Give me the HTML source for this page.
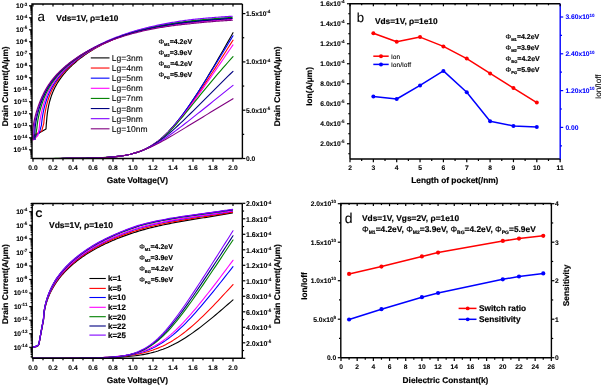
<!DOCTYPE html><html><head><meta charset="utf-8"><style>html,body{margin:0;padding:0;background:#fff;}svg{display:block;will-change:transform;}text{font-family:"Liberation Sans",sans-serif;text-rendering:geometricPrecision;}</style></head><body>
<svg width="601" height="385" viewBox="0 0 601 385">
<rect width="601" height="385" fill="#fff"/>
<clipPath id="ca"><rect x="32" y="3" width="210.4" height="155.5"/></clipPath>
<g clip-path="url(#ca)">
<polyline points="33.00,158.49 35.50,158.49 38.00,158.48 40.50,158.48 43.00,158.48 45.50,158.47 48.00,158.47 50.50,158.47 53.00,158.46 55.50,158.45 58.00,158.45 60.50,158.44 63.00,158.43 65.50,158.41 68.00,158.40 70.50,158.38 73.00,158.36 75.50,158.34 78.00,158.31 80.50,158.28 83.00,158.25 85.50,158.21 88.00,158.16 90.50,158.10 93.00,158.03 95.50,157.96 98.00,157.87 100.50,157.77 103.00,157.65 105.50,157.51 108.00,157.35 110.50,157.16 113.00,156.95 115.50,156.70 118.00,156.42 120.50,156.09 123.00,155.72 125.50,155.28 128.00,154.79 130.50,154.23 133.00,153.59 135.50,152.87 138.00,152.05 140.50,151.13 143.00,150.10 145.50,148.94 148.00,147.66 150.50,146.25 153.00,144.69 155.50,142.98 158.00,141.12 160.50,139.11 163.00,136.93 165.50,134.61 168.00,132.12 170.50,129.49 173.00,126.71 175.50,123.78 178.00,120.72 180.50,117.54 183.00,114.23 185.50,110.80 188.00,107.27 190.50,103.64 193.00,99.92 195.50,96.12 198.00,92.24 200.50,88.29 203.00,84.27 205.50,80.20 208.00,76.07 210.50,71.90 213.00,67.67 215.50,63.41 218.00,59.11 220.50,54.78 223.00,50.42 225.50,46.03 228.00,41.61 230.50,37.16 233.00,32.70" fill="none" stroke="#000000" stroke-width="1.1" stroke-linejoin="round" stroke-linecap="round"/>
<polyline points="33.00,158.49 35.50,158.48 38.00,158.48 40.50,158.48 43.00,158.48 45.50,158.47 48.00,158.47 50.50,158.46 53.00,158.46 55.50,158.45 58.00,158.44 60.50,158.43 63.00,158.42 65.50,158.41 68.00,158.39 70.50,158.37 73.00,158.35 75.50,158.33 78.00,158.30 80.50,158.27 83.00,158.23 85.50,158.19 88.00,158.14 90.50,158.08 93.00,158.01 95.50,157.94 98.00,157.85 100.50,157.74 103.00,157.62 105.50,157.48 108.00,157.32 110.50,157.14 113.00,156.92 115.50,156.67 118.00,156.39 120.50,156.06 123.00,155.69 125.50,155.26 128.00,154.77 130.50,154.21 133.00,153.58 135.50,152.86 138.00,152.05 140.50,151.14 143.00,150.11 145.50,148.97 148.00,147.70 150.50,146.29 153.00,144.74 155.50,143.05 158.00,141.20 160.50,139.21 163.00,137.06 165.50,134.76 168.00,132.31 170.50,129.72 173.00,127.00 175.50,124.15 178.00,121.17 180.50,118.08 183.00,114.89 185.50,111.60 188.00,108.23 190.50,104.78 193.00,101.26 195.50,97.68 198.00,94.05 200.50,90.37 203.00,86.65 205.50,82.89 208.00,79.10 210.50,75.28 213.00,71.44 215.50,67.58 218.00,63.70 220.50,59.81 223.00,55.90 225.50,51.99 228.00,48.06 230.50,44.13 233.00,40.19" fill="none" stroke="#ff0000" stroke-width="1.1" stroke-linejoin="round" stroke-linecap="round"/>
<polyline points="33.00,158.49 35.50,158.48 38.00,158.48 40.50,158.48 43.00,158.47 45.50,158.47 48.00,158.46 50.50,158.46 53.00,158.45 55.50,158.44 58.00,158.44 60.50,158.43 63.00,158.41 65.50,158.40 68.00,158.38 70.50,158.37 73.00,158.34 75.50,158.32 78.00,158.29 80.50,158.26 83.00,158.22 85.50,158.18 88.00,158.12 90.50,158.07 93.00,158.00 95.50,157.92 98.00,157.83 100.50,157.72 103.00,157.60 105.50,157.46 108.00,157.30 110.50,157.11 113.00,156.90 115.50,156.65 118.00,156.37 120.50,156.05 123.00,155.67 125.50,155.25 128.00,154.76 130.50,154.21 133.00,153.58 135.50,152.86 138.00,152.06 140.50,151.15 143.00,150.12 145.50,148.98 148.00,147.71 150.50,146.30 153.00,144.74 155.50,143.03 158.00,141.17 160.50,139.14 163.00,136.95 165.50,134.60 168.00,132.09 170.50,129.43 173.00,126.62 175.50,123.67 178.00,120.58 180.50,117.37 183.00,114.05 185.50,110.62 188.00,107.09 190.50,103.48 193.00,99.80 195.50,96.05 198.00,92.23 200.50,88.37 203.00,84.47 205.50,80.52 208.00,76.54 210.50,72.54 213.00,68.51 215.50,64.46 218.00,60.40 220.50,56.32 223.00,52.23 225.50,48.13 228.00,44.02 230.50,39.91 233.00,35.80" fill="none" stroke="#0000ff" stroke-width="1.1" stroke-linejoin="round" stroke-linecap="round"/>
<polyline points="33.00,158.48 35.50,158.48 38.00,158.48 40.50,158.48 43.00,158.47 45.50,158.47 48.00,158.46 50.50,158.46 53.00,158.45 55.50,158.44 58.00,158.43 60.50,158.42 63.00,158.41 65.50,158.39 68.00,158.38 70.50,158.36 73.00,158.34 75.50,158.31 78.00,158.28 80.50,158.25 83.00,158.21 85.50,158.16 88.00,158.11 90.50,158.05 93.00,157.98 95.50,157.90 98.00,157.81 100.50,157.70 103.00,157.58 105.50,157.44 108.00,157.27 110.50,157.09 113.00,156.87 115.50,156.63 118.00,156.34 120.50,156.02 123.00,155.65 125.50,155.22 128.00,154.74 130.50,154.19 133.00,153.56 135.50,152.85 138.00,152.06 140.50,151.16 143.00,150.15 145.50,149.03 148.00,147.78 150.50,146.40 153.00,144.87 155.50,143.21 158.00,141.39 160.50,139.43 163.00,137.32 165.50,135.06 168.00,132.65 170.50,130.11 173.00,127.43 175.50,124.63 178.00,121.72 180.50,118.70 183.00,115.58 185.50,112.38 188.00,109.11 190.50,105.77 193.00,102.38 195.50,98.93 198.00,95.44 200.50,91.92 203.00,88.37 205.50,84.80 208.00,81.20 210.50,77.60 213.00,73.98 215.50,70.35 218.00,66.72 220.50,63.08 223.00,59.44 225.50,55.80 228.00,52.17 230.50,48.53 233.00,44.90" fill="none" stroke="#ff00ff" stroke-width="1.1" stroke-linejoin="round" stroke-linecap="round"/>
<polyline points="33.00,158.48 35.50,158.47 38.00,158.47 40.50,158.47 43.00,158.46 45.50,158.46 48.00,158.45 50.50,158.44 53.00,158.43 55.50,158.42 58.00,158.41 60.50,158.40 63.00,158.39 65.50,158.37 68.00,158.35 70.50,158.33 73.00,158.30 75.50,158.28 78.00,158.24 80.50,158.21 83.00,158.16 85.50,158.12 88.00,158.06 90.50,158.00 93.00,157.92 95.50,157.84 98.00,157.74 100.50,157.63 103.00,157.51 105.50,157.37 108.00,157.20 110.50,157.01 113.00,156.80 115.50,156.56 118.00,156.28 120.50,155.96 123.00,155.60 125.50,155.19 128.00,154.72 130.50,154.18 133.00,153.58 135.50,152.89 138.00,152.12 140.50,151.25 143.00,150.27 145.50,149.18 148.00,147.95 150.50,146.60 153.00,145.10 155.50,143.45 158.00,141.65 160.50,139.70 163.00,137.59 165.50,135.34 168.00,132.95 170.50,130.42 173.00,127.77 175.50,125.02 178.00,122.18 180.50,119.26 183.00,116.28 185.50,113.25 188.00,110.19 190.50,107.10 193.00,104.00 195.50,100.90 198.00,97.80 200.50,94.71 203.00,91.64 205.50,88.59 208.00,85.56 210.50,82.55 213.00,79.57 215.50,76.61 218.00,73.69 220.50,70.79 223.00,67.92 225.50,65.07 228.00,62.25 230.50,59.46 233.00,56.70" fill="none" stroke="#008000" stroke-width="1.1" stroke-linejoin="round" stroke-linecap="round"/>
<polyline points="33.00,158.49 35.50,158.48 38.00,158.48 40.50,158.48 43.00,158.48 45.50,158.47 48.00,158.47 50.50,158.46 53.00,158.46 55.50,158.45 58.00,158.44 60.50,158.43 63.00,158.42 65.50,158.41 68.00,158.39 70.50,158.37 73.00,158.35 75.50,158.33 78.00,158.30 80.50,158.27 83.00,158.23 85.50,158.19 88.00,158.14 90.50,158.08 93.00,158.02 95.50,157.94 98.00,157.85 100.50,157.74 103.00,157.62 105.50,157.48 108.00,157.32 110.50,157.13 113.00,156.92 115.50,156.67 118.00,156.38 120.50,156.06 123.00,155.68 125.50,155.25 128.00,154.76 130.50,154.20 133.00,153.57 135.50,152.86 138.00,152.06 140.50,151.16 143.00,150.17 145.50,149.07 148.00,147.86 150.50,146.55 153.00,145.11 155.50,143.57 158.00,141.92 160.50,140.17 163.00,138.31 165.50,136.36 168.00,134.33 170.50,132.22 173.00,130.04 175.50,127.79 178.00,125.50 180.50,123.16 183.00,120.78 185.50,118.38 188.00,115.94 190.50,113.49 193.00,111.02 195.50,108.53 198.00,106.04 200.50,103.55 203.00,101.05 205.50,98.55 208.00,96.05 210.50,93.55 213.00,91.05 215.50,88.56 218.00,86.08 220.50,83.60 223.00,81.12 225.50,78.66 228.00,76.20 230.50,73.74 233.00,71.29" fill="none" stroke="#000080" stroke-width="1.1" stroke-linejoin="round" stroke-linecap="round"/>
<polyline points="33.00,158.49 35.50,158.49 38.00,158.49 40.50,158.49 43.00,158.48 45.50,158.48 48.00,158.48 50.50,158.47 53.00,158.47 55.50,158.46 58.00,158.45 60.50,158.45 63.00,158.44 65.50,158.43 68.00,158.41 70.50,158.40 73.00,158.38 75.50,158.36 78.00,158.33 80.50,158.30 83.00,158.27 85.50,158.23 88.00,158.18 90.50,158.13 93.00,158.06 95.50,157.99 98.00,157.90 100.50,157.80 103.00,157.68 105.50,157.54 108.00,157.37 110.50,157.18 113.00,156.97 115.50,156.71 118.00,156.42 120.50,156.08 123.00,155.70 125.50,155.26 128.00,154.76 130.50,154.20 133.00,153.56 135.50,152.85 138.00,152.06 140.50,151.19 143.00,150.23 145.50,149.18 148.00,148.05 150.50,146.83 153.00,145.53 155.50,144.15 158.00,142.69 160.50,141.17 163.00,139.58 165.50,137.93 168.00,136.23 170.50,134.48 173.00,132.69 175.50,130.86 178.00,129.00 180.50,127.12 183.00,125.21 185.50,123.28 188.00,121.34 190.50,119.38 193.00,117.41 195.50,115.43 198.00,113.44 200.50,111.45 203.00,109.46 205.50,107.46 208.00,105.45 210.50,103.45 213.00,101.44 215.50,99.44 218.00,97.43 220.50,95.42 223.00,93.42 225.50,91.41 228.00,89.41 230.50,87.40 233.00,85.40" fill="none" stroke="#8000ff" stroke-width="1.1" stroke-linejoin="round" stroke-linecap="round"/>
<polyline points="33.00,158.49 35.50,158.49 38.00,158.49 40.50,158.49 43.00,158.49 45.50,158.48 48.00,158.48 50.50,158.48 53.00,158.47 55.50,158.47 58.00,158.46 60.50,158.45 63.00,158.45 65.50,158.44 68.00,158.42 70.50,158.41 73.00,158.39 75.50,158.37 78.00,158.35 80.50,158.32 83.00,158.29 85.50,158.25 88.00,158.21 90.50,158.15 93.00,158.09 95.50,158.02 98.00,157.93 100.50,157.83 103.00,157.71 105.50,157.57 108.00,157.41 110.50,157.21 113.00,156.99 115.50,156.74 118.00,156.44 120.50,156.10 123.00,155.71 125.50,155.26 128.00,154.76 130.50,154.19 133.00,153.56 135.50,152.86 138.00,152.09 140.50,151.24 143.00,150.33 145.50,149.34 148.00,148.29 150.50,147.17 153.00,146.00 155.50,144.77 158.00,143.50 160.50,142.18 163.00,140.82 165.50,139.43 168.00,138.01 170.50,136.57 173.00,135.11 175.50,133.63 178.00,132.14 180.50,130.63 183.00,129.12 185.50,127.61 188.00,126.08 190.50,124.56 193.00,123.03 195.50,121.50 198.00,119.97 200.50,118.44 203.00,116.91 205.50,115.39 208.00,113.86 210.50,112.33 213.00,110.81 215.50,109.29 218.00,107.77 220.50,106.25 223.00,104.74 225.50,103.22 228.00,101.71 230.50,100.21 233.00,98.70" fill="none" stroke="#800080" stroke-width="1.1" stroke-linejoin="round" stroke-linecap="round"/>
<polyline points="33.00,136.50 46.00,129.00 46.07,127.72 46.15,126.45 46.24,125.19 46.34,123.92 46.45,122.67 46.57,121.41 46.67,120.16 46.77,118.91 46.88,117.66 47.00,116.41 47.14,115.16 47.29,113.91 47.45,112.66 47.63,111.41 47.83,110.15 48.04,108.90 48.27,107.65 48.51,106.41 48.77,105.17 49.05,103.93 49.35,102.69 49.67,101.46 50.00,100.23 50.36,99.01 50.73,97.80 51.12,96.60 51.54,95.40 51.98,94.21 52.43,93.03 52.91,91.86 53.41,90.70 53.93,89.55 54.48,88.42 55.04,87.30 55.62,86.20 56.22,85.11 56.84,84.03 57.48,82.97 58.13,81.92 58.80,80.89 59.49,79.86 60.19,78.85 60.91,77.86 61.64,76.87 62.39,75.90 63.15,74.94 63.92,73.99 64.70,73.06 65.50,72.14 66.31,71.23 67.13,70.33 67.96,69.44 68.80,68.56 69.65,67.70 70.51,66.85 71.38,66.00 72.26,65.17 73.14,64.35 74.04,63.54 74.94,62.75 75.85,61.96 76.77,61.18 77.70,60.41 78.63,59.66 79.57,58.91 80.51,58.17 81.46,57.44 82.42,56.72 83.38,56.02 84.35,55.32 85.32,54.63 86.30,53.94 87.29,53.27 88.29,52.61 89.28,51.95 90.29,51.31 91.30,50.67 92.32,50.04 93.34,49.42 94.37,48.81 95.40,48.21 96.45,47.61 97.49,47.03 98.54,46.45 99.60,45.88 100.66,45.32 101.73,44.77 102.81,44.22 103.89,43.69 104.97,43.16 106.06,42.63 107.16,42.12 108.26,41.61 109.36,41.12 110.48,40.62 111.59,40.14 112.72,39.67 113.84,39.20 114.98,38.74 116.11,38.28 117.26,37.83 118.41,37.39 119.56,36.96 120.72,36.53 121.88,36.11 123.05,35.70 124.22,35.30 125.40,34.90 126.58,34.50 127.77,34.12 128.96,33.74 130.16,33.37 131.36,33.00 132.57,32.64 133.79,32.28 135.00,31.94 136.22,31.59 137.45,31.26 138.68,30.93 139.92,30.60 141.16,30.28 142.41,29.97 143.66,29.66 144.91,29.36 146.17,29.07 147.44,28.78 148.71,28.49 149.98,28.21 151.26,27.94 152.54,27.67 153.83,27.40 155.12,27.14 156.42,26.89 157.72,26.64 159.02,26.39 160.33,26.15 161.64,25.92 162.96,25.69 164.28,25.46 165.61,25.24 166.94,25.02 168.27,24.81 169.61,24.60 170.95,24.40 172.29,24.20 173.64,24.00 174.99,23.81 176.35,23.62 177.70,23.44 179.06,23.26 180.43,23.08 181.79,22.91 183.16,22.74 184.52,22.58 185.89,22.41 187.26,22.25 188.63,22.10 190.00,21.95 191.37,21.80 192.73,21.65 194.10,21.51 195.46,21.37 196.82,21.24 198.18,21.10 199.53,20.97 200.88,20.84 202.23,20.72 203.56,20.60 204.89,20.48 206.21,20.36 207.52,20.24 208.83,20.13 210.12,20.02 211.40,19.91 212.67,19.81 213.93,19.70 215.17,19.60 216.40,19.50 217.62,19.40 218.82,19.31 220.01,19.21 221.18,19.12 222.33,19.03 223.47,18.94 224.59,18.85 225.69,18.76 226.78,18.68 227.84,18.59 228.90,18.51 229.93,18.43 230.95,18.35 231.46,18.31" fill="none" stroke="#000000" stroke-width="1.15" stroke-linejoin="round" stroke-linecap="round"/>
<polyline points="33.00,135.50 41.81,130.92 42.11,129.64 42.42,128.36 42.75,127.09 43.10,125.82 43.45,124.55 43.80,123.30 43.90,122.04 44.01,120.79 44.14,119.53 44.28,118.28 44.44,117.03 44.60,115.78 44.79,114.53 44.98,113.28 45.20,112.03 45.42,110.78 45.67,109.53 45.92,108.28 46.20,107.03 46.49,105.79 46.80,104.55 47.12,103.31 47.46,102.07 47.82,100.85 48.20,99.62 48.59,98.41 49.01,97.20 49.44,96.00 49.90,94.80 50.37,93.62 50.86,92.44 51.38,91.28 51.91,90.12 52.47,88.99 53.04,87.86 53.64,86.75 54.25,85.65 54.88,84.57 55.53,83.50 56.20,82.44 56.88,81.40 57.58,80.37 58.30,79.36 59.03,78.35 59.78,77.36 60.54,76.38 61.32,75.42 62.10,74.47 62.91,73.52 63.72,72.60 64.55,71.68 65.38,70.77 66.23,69.88 67.09,69.00 67.96,68.13 68.84,67.27 69.73,66.42 70.63,65.59 71.54,64.76 72.46,63.95 73.38,63.14 74.32,62.35 75.26,61.57 76.21,60.80 77.16,60.03 78.12,59.28 79.09,58.54 80.07,57.81 81.05,57.08 82.03,56.37 83.03,55.66 84.03,54.97 85.03,54.29 86.04,53.62 87.06,52.96 88.08,52.30 89.11,51.66 90.14,51.02 91.18,50.40 92.22,49.78 93.27,49.17 94.33,48.57 95.39,47.97 96.45,47.39 97.53,46.81 98.60,46.24 99.69,45.68 100.77,45.13 101.86,44.59 102.96,44.05 104.07,43.52 105.17,43.00 106.29,42.49 107.40,41.99 108.53,41.49 109.65,41.00 110.79,40.52 111.92,40.04 113.07,39.58 114.21,39.12 115.37,38.66 116.52,38.22 117.68,37.78 118.85,37.35 120.02,36.93 121.19,36.51 122.37,36.10 123.56,35.70 124.75,35.30 125.94,34.91 127.14,34.52 128.34,34.15 129.55,33.78 130.76,33.41 131.97,33.05 133.19,32.70 134.42,32.36 135.64,32.02 136.88,31.68 138.11,31.36 139.35,31.04 140.60,30.72 141.85,30.41 143.10,30.11 144.36,29.81 145.62,29.51 146.88,29.23 148.15,28.94 149.42,28.67 150.70,28.40 151.98,28.13 153.27,27.87 154.56,27.61 155.85,27.36 157.14,27.11 158.44,26.87 159.75,26.64 161.05,26.40 162.36,26.18 163.68,25.96 165.00,25.74 166.32,25.52 167.64,25.32 168.97,25.11 170.30,24.91 171.63,24.71 172.97,24.52 174.31,24.33 175.65,24.15 176.99,23.97 178.34,23.79 179.69,23.62 181.04,23.45 182.39,23.29 183.74,23.13 185.09,22.97 186.45,22.82 187.80,22.66 189.16,22.52 190.51,22.37 191.87,22.23 193.22,22.08 194.57,21.94 195.92,21.80 197.26,21.67 198.61,21.54 199.95,21.41 201.28,21.28 202.61,21.16 203.94,21.04 205.26,20.92 206.57,20.80 207.87,20.69 209.17,20.58 210.46,20.47 211.74,20.36 213.01,20.25 214.26,20.15 215.51,20.05 216.75,19.95 217.97,19.85 219.18,19.76 220.38,19.66 221.57,19.57 222.74,19.48 223.90,19.39 225.05,19.31 226.18,19.22 227.30,19.13 228.40,19.05 229.49,18.97 230.57,18.89 231.64,18.81 231.64,18.81" fill="none" stroke="#ff0000" stroke-width="1.15" stroke-linejoin="round" stroke-linecap="round"/>
<polyline points="33.00,137.60 39.40,132.86 39.72,131.56 40.04,130.28 40.38,129.00 40.73,127.72 41.10,126.45 41.46,125.19 41.56,123.92 41.68,122.67 41.82,121.41 41.97,120.16 42.13,118.91 42.31,117.66 42.51,116.41 42.72,115.16 42.94,113.91 43.18,112.66 43.43,111.41 43.69,110.15 43.98,108.90 44.27,107.65 44.58,106.41 44.91,105.17 45.26,103.93 45.62,102.69 46.00,101.46 46.39,100.23 46.81,99.01 47.24,97.80 47.69,96.60 48.15,95.40 48.64,94.21 49.14,93.03 49.67,91.86 50.21,90.70 50.77,89.55 51.36,88.42 51.96,87.30 52.58,86.20 53.22,85.11 53.88,84.03 54.56,82.97 55.25,81.92 55.96,80.89 56.69,79.86 57.43,78.85 58.19,77.86 58.96,76.87 59.75,75.90 60.55,74.94 61.36,73.99 62.19,73.06 63.02,72.14 63.88,71.23 64.74,70.33 65.61,69.44 66.50,68.56 67.39,67.70 68.30,66.85 69.21,66.00 70.14,65.17 71.07,64.35 72.01,63.54 72.96,62.75 73.92,61.96 74.89,61.18 75.86,60.41 76.84,59.66 77.83,58.91 78.82,58.17 79.82,57.44 80.83,56.72 81.84,56.02 82.86,55.31 83.88,54.62 84.91,53.93 85.95,53.25 86.99,52.59 88.03,51.93 89.08,51.28 90.14,50.63 91.20,50.00 92.27,49.38 93.34,48.76 94.41,48.15 95.50,47.55 96.58,46.96 97.68,46.38 98.77,45.80 99.88,45.24 100.98,44.68 102.10,44.13 103.21,43.58 104.33,43.05 105.46,42.52 106.59,42.00 107.73,41.49 108.87,40.99 110.01,40.49 111.16,40.00 112.32,39.52 113.48,39.05 114.64,38.58 115.81,38.12 116.98,37.67 118.15,37.22 119.33,36.78 120.52,36.35 121.71,35.93 122.90,35.51 124.10,35.10 125.30,34.69 126.50,34.29 127.71,33.90 128.93,33.52 130.14,33.14 131.36,32.77 132.59,32.40 133.82,32.04 135.05,31.69 136.29,31.34 137.53,31.00 138.77,30.66 140.02,30.33 141.27,30.01 142.52,29.69 143.78,29.37 145.05,29.07 146.31,28.76 147.58,28.47 148.85,28.18 150.13,27.89 151.41,27.61 152.69,27.33 153.98,27.06 155.27,26.80 156.56,26.54 157.86,26.28 159.15,26.03 160.46,25.79 161.76,25.55 163.07,25.31 164.38,25.08 165.70,24.85 167.01,24.63 168.33,24.41 169.65,24.19 170.98,23.98 172.30,23.78 173.63,23.58 174.96,23.38 176.30,23.19 177.63,23.00 178.97,22.81 180.31,22.63 181.65,22.45 182.99,22.27 184.33,22.10 185.67,21.93 187.02,21.77 188.36,21.61 189.70,21.45 191.04,21.30 192.39,21.15 193.73,21.01 195.07,20.87 196.40,20.74 197.74,20.60 199.07,20.47 200.40,20.34 201.72,20.22 203.05,20.10 204.36,19.98 205.67,19.86 206.98,19.74 208.28,19.63 209.57,19.52 210.85,19.41 212.13,19.31 213.40,19.20 214.66,19.10 215.91,19.00 217.15,18.90 218.39,18.81 219.61,18.71 220.82,18.62 222.02,18.53 223.21,18.44 224.39,18.35 225.56,18.26 226.71,18.18 227.86,18.09 228.99,18.01 230.12,17.93 231.23,17.85 231.78,17.81" fill="none" stroke="#0000ff" stroke-width="1.15" stroke-linejoin="round" stroke-linecap="round"/>
<polyline points="33.00,140.00 37.89,135.47 38.09,134.16 38.31,132.86 38.55,131.56 38.80,130.28 39.06,129.00 39.30,127.72 39.39,126.45 39.50,125.19 39.63,123.92 39.77,122.67 39.93,121.41 40.11,120.16 40.30,118.91 40.51,117.66 40.74,116.41 40.97,115.16 41.22,113.91 41.49,112.66 41.77,111.41 42.06,110.15 42.37,108.90 42.70,107.65 43.03,106.41 43.39,105.17 43.76,103.93 44.15,102.69 44.55,101.46 44.97,100.23 45.40,99.01 45.86,97.80 46.33,96.60 46.82,95.40 47.32,94.21 47.84,93.03 48.38,91.86 48.94,90.70 49.52,89.55 50.12,88.42 50.74,87.30 51.38,86.20 52.04,85.11 52.71,84.03 53.40,82.97 54.11,81.92 54.84,80.89 55.58,79.86 56.34,78.85 57.11,77.86 57.90,76.87 58.70,75.90 59.52,74.94 60.35,73.99 61.19,73.06 62.05,72.14 62.92,71.23 63.80,70.33 64.69,69.44 65.59,68.56 66.50,67.70 67.42,66.85 68.36,66.00 69.30,65.17 70.25,64.35 71.21,63.54 72.18,62.75 73.16,61.96 74.15,61.18 75.14,60.41 76.14,59.66 77.15,58.91 78.16,58.17 79.18,57.44 80.20,56.72 81.23,56.02 82.27,55.32 83.31,54.64 84.36,53.97 85.41,53.30 86.47,52.65 87.54,52.00 88.60,51.37 89.68,50.74 90.76,50.12 91.84,49.51 92.93,48.91 94.02,48.31 95.12,47.73 96.23,47.15 97.33,46.58 98.45,46.02 99.56,45.47 100.69,44.93 101.81,44.39 102.95,43.87 104.08,43.35 105.22,42.83 106.37,42.33 107.52,41.83 108.67,41.35 109.83,40.86 110.99,40.39 112.16,39.92 113.33,39.47 114.50,39.01 115.68,38.57 116.87,38.13 118.05,37.70 119.24,37.28 120.44,36.86 121.64,36.45 122.84,36.05 124.05,35.66 125.26,35.27 126.47,34.88 127.69,34.51 128.91,34.14 130.13,33.78 131.36,33.42 132.59,33.07 133.83,32.73 135.07,32.39 136.31,32.06 137.56,31.73 138.81,31.41 140.06,31.10 141.31,30.79 142.57,30.48 143.83,30.19 145.10,29.90 146.37,29.61 147.64,29.33 148.91,29.06 150.19,28.79 151.47,28.52 152.75,28.26 154.04,28.01 155.33,27.76 156.62,27.52 157.91,27.28 159.21,27.04 160.51,26.81 161.81,26.59 163.11,26.37 164.42,26.15 165.73,25.94 167.04,25.74 168.35,25.53 169.67,25.34 170.99,25.14 172.31,24.95 173.63,24.77 174.95,24.59 176.28,24.41 177.60,24.24 178.93,24.07 180.26,23.90 181.59,23.74 182.92,23.58 184.25,23.43 185.59,23.28 186.92,23.13 188.25,22.98 189.58,22.84 190.92,22.70 192.25,22.55 193.58,22.41 194.91,22.27 196.24,22.14 197.56,22.00 198.89,21.87 200.21,21.74 201.53,21.62 202.84,21.50 204.15,21.38 205.46,21.26 206.76,21.14 208.06,21.03 209.35,20.92 210.64,20.81 211.92,20.71 213.19,20.60 214.46,20.50 215.72,20.40 216.97,20.30 218.21,20.21 219.45,20.11 220.68,20.02 221.90,19.93 223.11,19.84 224.31,19.75 225.51,19.66 226.69,19.58 227.87,19.49 229.03,19.41 230.19,19.33 231.34,19.25 231.91,19.21" fill="none" stroke="#ff00ff" stroke-width="1.15" stroke-linejoin="round" stroke-linecap="round"/>
<polyline points="33.00,138.50 35.84,136.13 35.96,134.82 36.10,133.51 36.27,132.21 36.45,130.92 36.65,129.64 36.86,128.36 36.96,127.09 37.09,125.82 37.23,124.55 37.40,123.30 37.58,122.04 37.78,120.79 37.99,119.53 38.23,118.28 38.48,117.03 38.74,115.78 39.02,114.53 39.31,113.28 39.62,112.03 39.94,110.78 40.27,109.53 40.62,108.28 40.99,107.03 41.37,105.79 41.76,104.55 42.17,103.31 42.59,102.07 43.03,100.85 43.49,99.62 43.96,98.41 44.45,97.20 44.95,96.00 45.47,94.80 46.01,93.62 46.56,92.44 47.13,91.28 47.72,90.12 48.33,88.99 48.96,87.86 49.61,86.75 50.28,85.65 50.96,84.57 51.66,83.50 52.38,82.44 53.12,81.40 53.87,80.37 54.64,79.36 55.43,78.35 56.22,77.36 57.04,76.38 57.87,75.42 58.71,74.47 59.57,73.52 60.44,72.60 61.32,71.68 62.21,70.77 63.12,69.88 64.04,69.00 64.96,68.13 65.90,67.27 66.85,66.42 67.81,65.59 68.78,64.76 69.76,63.95 70.75,63.14 71.75,62.35 72.75,61.57 73.76,60.80 74.78,60.03 75.81,59.28 76.84,58.54 77.88,57.81 78.93,57.08 79.98,56.37 81.03,55.66 82.10,54.96 83.16,54.27 84.24,53.58 85.32,52.90 86.40,52.24 87.49,51.58 88.58,50.93 89.68,50.28 90.78,49.65 91.88,49.03 93.00,48.41 94.11,47.80 95.23,47.20 96.36,46.61 97.49,46.03 98.62,45.45 99.76,44.89 100.90,44.33 102.05,43.78 103.20,43.23 104.36,42.70 105.52,42.17 106.68,41.65 107.85,41.14 109.02,40.64 110.20,40.14 111.38,39.65 112.56,39.17 113.75,38.69 114.94,38.22 116.14,37.76 117.33,37.31 118.54,36.86 119.74,36.42 120.95,35.99 122.16,35.56 123.38,35.14 124.60,34.73 125.82,34.33 127.05,33.93 128.28,33.53 129.51,33.15 130.74,32.77 131.98,32.39 133.22,32.03 134.47,31.66 135.72,31.31 136.97,30.96 138.22,30.62 139.48,30.28 140.73,29.95 142.00,29.62 143.26,29.30 144.53,28.98 145.80,28.67 147.07,28.37 148.34,28.07 149.62,27.78 150.90,27.49 152.18,27.21 153.47,26.93 154.75,26.66 156.04,26.39 157.33,26.13 158.62,25.87 159.92,25.62 161.22,25.37 162.51,25.13 163.82,24.89 165.12,24.65 166.42,24.42 167.73,24.20 169.04,23.98 170.35,23.76 171.66,23.55 172.97,23.34 174.28,23.13 175.60,22.93 176.91,22.74 178.23,22.55 179.55,22.36 180.86,22.17 182.18,21.99 183.50,21.81 184.82,21.64 186.14,21.47 187.46,21.30 188.78,21.14 190.10,20.97 191.42,20.83 192.74,20.68 194.06,20.54 195.38,20.40 196.70,20.27 198.01,20.14 199.32,20.01 200.63,19.88 201.94,19.76 203.25,19.64 204.55,19.52 205.85,19.40 207.15,19.29 208.44,19.18 209.73,19.07 211.02,18.96 212.30,18.85 213.58,18.75 214.85,18.65 216.12,18.55 217.38,18.45 218.64,18.36 219.89,18.26 221.13,18.17 222.37,18.08 223.61,17.99 224.83,17.91 226.05,17.82 227.27,17.73 228.48,17.65 229.68,17.57 230.88,17.49 232.07,17.41 232.07,17.41" fill="none" stroke="#008000" stroke-width="1.15" stroke-linejoin="round" stroke-linecap="round"/>
<polyline points="34.06,139.47 33.95,138.12 33.87,136.79 33.82,135.47 33.80,134.16 33.81,132.86 33.85,131.56 33.91,130.28 34.00,129.00 34.12,127.72 34.26,126.45 34.42,125.19 34.61,123.92 34.81,122.67 35.04,121.41 35.28,120.16 35.55,118.91 35.83,117.66 36.13,116.41 36.44,115.16 36.76,113.91 37.10,112.66 37.45,111.41 37.82,110.15 38.20,108.90 38.60,107.65 39.01,106.41 39.43,105.17 39.87,103.93 40.32,102.69 40.78,101.46 41.27,100.23 41.76,99.01 42.27,97.80 42.80,96.60 43.34,95.40 43.89,94.21 44.47,93.03 45.05,91.86 45.66,90.70 46.28,89.55 46.92,88.42 47.58,87.30 48.26,86.20 48.96,85.11 49.67,84.03 50.41,82.97 51.16,81.92 51.92,80.89 52.71,79.86 53.50,78.85 54.32,77.86 55.15,76.87 55.99,75.90 56.85,74.94 57.72,73.99 58.61,73.06 59.51,72.14 60.42,71.23 61.34,70.33 62.28,69.44 63.23,68.56 64.19,67.70 65.16,66.85 66.14,66.00 67.13,65.17 68.13,64.35 69.13,63.54 70.15,62.75 71.18,61.96 72.21,61.18 73.26,60.41 74.31,59.66 75.36,58.91 76.43,58.17 77.50,57.44 78.57,56.72 79.65,56.02 80.74,55.31 81.83,54.60 82.93,53.89 84.03,53.20 85.14,52.52 86.25,51.84 87.36,51.17 88.48,50.51 89.61,49.86 90.74,49.22 91.87,48.59 93.01,47.96 94.15,47.35 95.29,46.74 96.44,46.14 97.60,45.55 98.76,44.97 99.92,44.39 101.09,43.82 102.26,43.26 103.43,42.71 104.61,42.17 105.79,41.63 106.97,41.10 108.16,40.58 109.35,40.07 110.55,39.56 111.75,39.06 112.95,38.57 114.16,38.08 115.37,37.61 116.58,37.14 117.80,36.67 119.01,36.22 120.24,35.77 121.46,35.32 122.69,34.89 123.92,34.46 125.15,34.04 126.39,33.62 127.63,33.21 128.87,32.81 130.11,32.41 131.36,32.02 132.61,31.63 133.86,31.26 135.12,30.88 136.37,30.52 137.63,30.16 138.90,29.80 140.16,29.45 141.43,29.11 142.69,28.77 143.96,28.44 145.24,28.12 146.51,27.80 147.79,27.48 149.06,27.17 150.34,26.87 151.62,26.57 152.91,26.27 154.19,25.98 155.48,25.70 156.77,25.42 158.06,25.15 159.35,24.88 160.64,24.61 161.93,24.35 163.23,24.10 164.52,23.85 165.82,23.60 167.12,23.36 168.41,23.12 169.71,22.89 171.02,22.66 172.32,22.44 173.62,22.22 174.92,22.00 176.23,21.79 177.53,21.58 178.83,21.37 180.14,21.17 181.45,20.97 182.75,20.78 184.06,20.59 185.36,20.40 186.67,20.22 187.98,20.04 189.28,19.86 190.59,19.70 191.89,19.55 193.20,19.41 194.50,19.27 195.81,19.14 197.11,19.00 198.41,18.87 199.71,18.74 201.01,18.62 202.31,18.50 203.61,18.38 204.91,18.26 206.20,18.14 207.49,18.03 208.79,17.92 210.08,17.81 211.36,17.71 212.65,17.60 213.93,17.50 215.21,17.40 216.49,17.30 217.77,17.21 219.04,17.11 220.31,17.02 221.58,16.93 222.85,16.84 224.11,16.75 225.37,16.66 226.63,16.58 227.88,16.49 229.13,16.41 230.38,16.33 231.63,16.25 232.25,16.21" fill="none" stroke="#8000ff" stroke-width="1.15" stroke-linejoin="round" stroke-linecap="round"/>
<polyline points="35.13,139.47 35.03,138.12 34.95,136.79 34.91,135.47 34.89,134.16 34.90,132.86 34.93,131.56 34.99,130.28 35.07,129.00 35.18,127.72 35.31,126.45 35.46,125.19 35.64,123.92 35.83,122.67 36.04,121.41 36.27,120.16 36.52,118.91 36.79,117.66 37.07,116.41 37.37,115.16 37.68,113.91 38.00,112.66 38.34,111.41 38.69,110.15 39.06,108.90 39.44,107.65 39.83,106.41 40.24,105.17 40.66,103.93 41.10,102.69 41.56,101.46 42.03,100.23 42.51,99.01 43.01,97.80 43.52,96.60 44.05,95.40 44.60,94.21 45.16,93.03 45.74,91.86 46.33,90.70 46.94,89.55 47.58,88.42 48.23,87.30 48.90,86.20 49.59,85.11 50.30,84.03 51.02,82.97 51.76,81.92 52.52,80.89 53.30,79.86 54.09,78.85 54.89,77.86 55.71,76.87 56.55,75.90 57.40,74.94 58.26,73.99 59.14,73.06 60.03,72.14 60.93,71.23 61.85,70.33 62.77,69.44 63.71,68.56 64.66,67.70 65.62,66.85 66.59,66.00 67.57,65.17 68.56,64.35 69.56,63.54 70.57,62.75 71.59,61.96 72.61,61.18 73.64,60.41 74.68,59.66 75.73,58.91 76.78,58.17 77.84,57.44 78.91,56.72 79.98,56.02 81.06,55.32 82.14,54.63 83.22,53.95 84.31,53.28 85.41,52.62 86.51,51.96 87.62,51.32 88.73,50.69 89.84,50.06 90.96,49.44 92.09,48.83 93.22,48.23 94.35,47.64 95.49,47.06 96.63,46.48 97.77,45.91 98.92,45.35 100.08,44.80 101.23,44.26 102.40,43.73 103.56,43.20 104.73,42.68 105.91,42.17 107.09,41.66 108.27,41.17 109.45,40.68 110.64,40.20 111.83,39.72 113.03,39.26 114.23,38.80 115.43,38.34 116.64,37.90 117.85,37.46 119.06,37.03 120.28,36.61 121.50,36.19 122.72,35.78 123.95,35.38 125.17,34.98 126.41,34.59 127.64,34.21 128.88,33.83 130.12,33.46 131.36,33.09 132.61,32.73 133.86,32.38 135.11,32.04 136.36,31.70 137.62,31.36 138.88,31.03 140.14,30.71 141.40,30.40 142.67,30.09 143.94,29.78 145.21,29.48 146.48,29.19 147.76,28.90 149.03,28.62 150.31,28.34 151.59,28.07 152.88,27.80 154.16,27.54 155.45,27.28 156.74,27.03 158.03,26.78 159.32,26.54 160.61,26.30 161.91,26.07 163.20,25.84 164.50,25.62 165.80,25.40 167.10,25.18 168.40,24.97 169.71,24.77 171.01,24.56 172.31,24.37 173.62,24.17 174.93,23.98 176.24,23.80 177.55,23.62 178.85,23.44 180.16,23.26 181.48,23.09 182.79,22.93 184.10,22.76 185.41,22.60 186.72,22.45 188.03,22.30 189.34,22.15 190.65,22.00 191.97,21.85 193.28,21.71 194.58,21.57 195.89,21.44 197.20,21.30 198.51,21.17 199.81,21.04 201.12,20.92 202.42,20.80 203.72,20.68 205.02,20.56 206.32,20.44 207.61,20.33 208.90,20.22 210.19,20.11 211.48,20.01 212.76,19.90 214.04,19.80 215.32,19.70 216.59,19.60 217.86,19.51 219.13,19.41 220.39,19.32 221.65,19.23 222.90,19.14 224.15,19.05 225.40,18.96 226.64,18.88 227.88,18.79 229.11,18.71 230.34,18.63 231.57,18.55 232.18,18.51" fill="none" stroke="#000080" stroke-width="1.15" stroke-linejoin="round" stroke-linecap="round"/>
<polyline points="33.00,139.47 32.87,138.12 32.79,136.79 32.73,135.47 32.71,134.16 32.72,132.86 32.76,131.56 32.83,130.28 32.93,129.00 33.06,127.72 33.21,126.45 33.38,125.19 33.58,123.92 33.79,122.67 34.03,121.41 34.29,120.16 34.57,118.91 34.87,117.66 35.18,116.41 35.51,115.16 35.85,113.91 36.20,112.66 36.57,111.41 36.95,110.15 37.35,108.90 37.76,107.65 38.18,106.41 38.62,105.17 39.07,103.93 39.53,102.69 40.01,101.46 40.51,100.23 41.01,99.01 41.54,97.80 42.07,96.60 42.63,95.40 43.19,94.21 43.77,93.03 44.37,91.86 44.98,90.70 45.61,89.55 46.26,88.42 46.93,87.30 47.62,86.20 48.33,85.11 49.05,84.03 49.79,82.97 50.55,81.92 51.32,80.89 52.12,79.86 52.92,78.85 53.75,77.86 54.58,76.87 55.44,75.90 56.30,74.94 57.18,73.99 58.08,73.06 58.99,72.14 59.91,71.23 60.84,70.33 61.79,69.44 62.74,68.56 63.71,67.70 64.69,66.85 65.68,66.00 66.68,65.17 67.69,64.35 68.71,63.54 69.74,62.75 70.77,61.96 71.82,61.18 72.87,60.41 73.93,59.66 75.00,58.91 76.07,58.17 77.15,57.44 78.24,56.72 79.33,56.02 80.43,55.32 81.53,54.65 82.64,53.99 83.75,53.34 84.86,52.69 85.98,52.06 87.11,51.43 88.24,50.81 89.37,50.20 90.51,49.60 91.65,49.01 92.80,48.43 93.95,47.86 95.10,47.29 96.26,46.73 97.42,46.18 98.59,45.64 99.76,45.11 100.94,44.58 102.11,44.07 103.30,43.56 104.48,43.06 105.67,42.56 106.86,42.08 108.06,41.60 109.26,41.13 110.46,40.67 111.67,40.21 112.87,39.76 114.09,39.32 115.30,38.89 116.52,38.46 117.74,38.05 118.97,37.63 120.19,37.23 121.42,36.83 122.66,36.44 123.89,36.05 125.13,35.68 126.37,35.31 127.62,34.94 128.86,34.58 130.11,34.23 131.36,33.89 132.61,33.55 133.87,33.21 135.13,32.89 136.39,32.57 137.65,32.25 138.91,31.95 140.18,31.64 141.45,31.35 142.72,31.05 143.99,30.77 145.26,30.49 146.54,30.22 147.82,29.95 149.09,29.68 150.37,29.43 151.66,29.17 152.94,28.93 154.22,28.68 155.51,28.45 156.80,28.21 158.08,27.99 159.37,27.76 160.66,27.55 161.96,27.33 163.25,27.13 164.54,26.92 165.84,26.72 167.13,26.53 168.43,26.34 169.72,26.15 171.02,25.97 172.32,25.79 173.62,25.62 174.92,25.45 176.22,25.28 177.51,25.12 178.81,24.97 180.11,24.81 181.42,24.66 182.72,24.51 184.02,24.37 185.32,24.23 186.62,24.10 187.92,23.96 189.22,23.83 190.52,23.70 191.82,23.55 193.12,23.41 194.42,23.27 195.72,23.14 197.01,23.00 198.31,22.87 199.61,22.74 200.91,22.62 202.20,22.50 203.50,22.38 204.79,22.26 206.09,22.14 207.38,22.03 208.67,21.92 209.96,21.81 211.25,21.71 212.54,21.60 213.82,21.50 215.11,21.40 216.39,21.30 217.68,21.21 218.96,21.11 220.24,21.02 221.52,20.93 222.79,20.84 224.07,20.75 225.34,20.66 226.62,20.58 227.89,20.49 229.15,20.41 230.42,20.33 231.68,20.25 232.32,20.21" fill="none" stroke="#800080" stroke-width="1.15" stroke-linejoin="round" stroke-linecap="round"/>
</g>
<path d="M32,158.5 L32,4 L242.4,4" fill="none" stroke="#000" stroke-width="1.4"/>
<path d="M32,158.5 L242.4,158.5" fill="none" stroke="#000" stroke-width="1.4"/>
<path d="M242.4,4 L242.4,158.5" fill="none" stroke="#000" stroke-width="1.4"/>
<line x1="33.00" y1="158.50" x2="33.00" y2="161.70" stroke="#000" stroke-width="1.2"/>
<line x1="33.00" y1="4.00" x2="33.00" y2="6.60" stroke="#000" stroke-width="1.2"/>
<line x1="53.00" y1="158.50" x2="53.00" y2="161.70" stroke="#000" stroke-width="1.2"/>
<line x1="53.00" y1="4.00" x2="53.00" y2="6.60" stroke="#000" stroke-width="1.2"/>
<line x1="73.00" y1="158.50" x2="73.00" y2="161.70" stroke="#000" stroke-width="1.2"/>
<line x1="73.00" y1="4.00" x2="73.00" y2="6.60" stroke="#000" stroke-width="1.2"/>
<line x1="93.00" y1="158.50" x2="93.00" y2="161.70" stroke="#000" stroke-width="1.2"/>
<line x1="93.00" y1="4.00" x2="93.00" y2="6.60" stroke="#000" stroke-width="1.2"/>
<line x1="113.00" y1="158.50" x2="113.00" y2="161.70" stroke="#000" stroke-width="1.2"/>
<line x1="113.00" y1="4.00" x2="113.00" y2="6.60" stroke="#000" stroke-width="1.2"/>
<line x1="133.00" y1="158.50" x2="133.00" y2="161.70" stroke="#000" stroke-width="1.2"/>
<line x1="133.00" y1="4.00" x2="133.00" y2="6.60" stroke="#000" stroke-width="1.2"/>
<line x1="153.00" y1="158.50" x2="153.00" y2="161.70" stroke="#000" stroke-width="1.2"/>
<line x1="153.00" y1="4.00" x2="153.00" y2="6.60" stroke="#000" stroke-width="1.2"/>
<line x1="173.00" y1="158.50" x2="173.00" y2="161.70" stroke="#000" stroke-width="1.2"/>
<line x1="173.00" y1="4.00" x2="173.00" y2="6.60" stroke="#000" stroke-width="1.2"/>
<line x1="193.00" y1="158.50" x2="193.00" y2="161.70" stroke="#000" stroke-width="1.2"/>
<line x1="193.00" y1="4.00" x2="193.00" y2="6.60" stroke="#000" stroke-width="1.2"/>
<line x1="213.00" y1="158.50" x2="213.00" y2="161.70" stroke="#000" stroke-width="1.2"/>
<line x1="213.00" y1="4.00" x2="213.00" y2="6.60" stroke="#000" stroke-width="1.2"/>
<line x1="233.00" y1="158.50" x2="233.00" y2="161.70" stroke="#000" stroke-width="1.2"/>
<line x1="233.00" y1="4.00" x2="233.00" y2="6.60" stroke="#000" stroke-width="1.2"/>
<line x1="43.00" y1="158.50" x2="43.00" y2="160.50" stroke="#000" stroke-width="1.2"/>
<line x1="43.00" y1="4.00" x2="43.00" y2="5.60" stroke="#000" stroke-width="1.2"/>
<line x1="63.00" y1="158.50" x2="63.00" y2="160.50" stroke="#000" stroke-width="1.2"/>
<line x1="63.00" y1="4.00" x2="63.00" y2="5.60" stroke="#000" stroke-width="1.2"/>
<line x1="83.00" y1="158.50" x2="83.00" y2="160.50" stroke="#000" stroke-width="1.2"/>
<line x1="83.00" y1="4.00" x2="83.00" y2="5.60" stroke="#000" stroke-width="1.2"/>
<line x1="103.00" y1="158.50" x2="103.00" y2="160.50" stroke="#000" stroke-width="1.2"/>
<line x1="103.00" y1="4.00" x2="103.00" y2="5.60" stroke="#000" stroke-width="1.2"/>
<line x1="123.00" y1="158.50" x2="123.00" y2="160.50" stroke="#000" stroke-width="1.2"/>
<line x1="123.00" y1="4.00" x2="123.00" y2="5.60" stroke="#000" stroke-width="1.2"/>
<line x1="143.00" y1="158.50" x2="143.00" y2="160.50" stroke="#000" stroke-width="1.2"/>
<line x1="143.00" y1="4.00" x2="143.00" y2="5.60" stroke="#000" stroke-width="1.2"/>
<line x1="163.00" y1="158.50" x2="163.00" y2="160.50" stroke="#000" stroke-width="1.2"/>
<line x1="163.00" y1="4.00" x2="163.00" y2="5.60" stroke="#000" stroke-width="1.2"/>
<line x1="183.00" y1="158.50" x2="183.00" y2="160.50" stroke="#000" stroke-width="1.2"/>
<line x1="183.00" y1="4.00" x2="183.00" y2="5.60" stroke="#000" stroke-width="1.2"/>
<line x1="203.00" y1="158.50" x2="203.00" y2="160.50" stroke="#000" stroke-width="1.2"/>
<line x1="203.00" y1="4.00" x2="203.00" y2="5.60" stroke="#000" stroke-width="1.2"/>
<line x1="223.00" y1="158.50" x2="223.00" y2="160.50" stroke="#000" stroke-width="1.2"/>
<line x1="223.00" y1="4.00" x2="223.00" y2="5.60" stroke="#000" stroke-width="1.2"/>
<text x="33.00" y="169.60" font-size="6.7" font-weight="bold" text-anchor="middle" fill="#000" stroke="#000" stroke-width="0.08">0.0</text>
<text x="53.00" y="169.60" font-size="6.7" font-weight="bold" text-anchor="middle" fill="#000" stroke="#000" stroke-width="0.08">0.2</text>
<text x="73.00" y="169.60" font-size="6.7" font-weight="bold" text-anchor="middle" fill="#000" stroke="#000" stroke-width="0.08">0.4</text>
<text x="93.00" y="169.60" font-size="6.7" font-weight="bold" text-anchor="middle" fill="#000" stroke="#000" stroke-width="0.08">0.6</text>
<text x="113.00" y="169.60" font-size="6.7" font-weight="bold" text-anchor="middle" fill="#000" stroke="#000" stroke-width="0.08">0.8</text>
<text x="133.00" y="169.60" font-size="6.7" font-weight="bold" text-anchor="middle" fill="#000" stroke="#000" stroke-width="0.08">1.0</text>
<text x="153.00" y="169.60" font-size="6.7" font-weight="bold" text-anchor="middle" fill="#000" stroke="#000" stroke-width="0.08">1.2</text>
<text x="173.00" y="169.60" font-size="6.7" font-weight="bold" text-anchor="middle" fill="#000" stroke="#000" stroke-width="0.08">1.4</text>
<text x="193.00" y="169.60" font-size="6.7" font-weight="bold" text-anchor="middle" fill="#000" stroke="#000" stroke-width="0.08">1.6</text>
<text x="213.00" y="169.60" font-size="6.7" font-weight="bold" text-anchor="middle" fill="#000" stroke="#000" stroke-width="0.08">1.8</text>
<text x="233.00" y="169.60" font-size="6.7" font-weight="bold" text-anchor="middle" fill="#000" stroke="#000" stroke-width="0.08">2.0</text>
<line x1="29.00" y1="5.80" x2="32.00" y2="5.80" stroke="#000" stroke-width="1.2"/>
<line x1="29.00" y1="17.80" x2="32.00" y2="17.80" stroke="#000" stroke-width="1.2"/>
<line x1="29.00" y1="29.80" x2="32.00" y2="29.80" stroke="#000" stroke-width="1.2"/>
<line x1="29.00" y1="41.80" x2="32.00" y2="41.80" stroke="#000" stroke-width="1.2"/>
<line x1="29.00" y1="53.80" x2="32.00" y2="53.80" stroke="#000" stroke-width="1.2"/>
<line x1="29.00" y1="65.80" x2="32.00" y2="65.80" stroke="#000" stroke-width="1.2"/>
<line x1="29.00" y1="77.80" x2="32.00" y2="77.80" stroke="#000" stroke-width="1.2"/>
<line x1="29.00" y1="89.80" x2="32.00" y2="89.80" stroke="#000" stroke-width="1.2"/>
<line x1="29.00" y1="101.80" x2="32.00" y2="101.80" stroke="#000" stroke-width="1.2"/>
<line x1="29.00" y1="113.80" x2="32.00" y2="113.80" stroke="#000" stroke-width="1.2"/>
<line x1="29.00" y1="125.80" x2="32.00" y2="125.80" stroke="#000" stroke-width="1.2"/>
<line x1="29.00" y1="137.80" x2="32.00" y2="137.80" stroke="#000" stroke-width="1.2"/>
<line x1="29.00" y1="149.80" x2="32.00" y2="149.80" stroke="#000" stroke-width="1.2"/>
<line x1="30.40" y1="158.19" x2="32.00" y2="158.19" stroke="#000" stroke-width="1.2"/>
<line x1="30.40" y1="156.07" x2="32.00" y2="156.07" stroke="#000" stroke-width="1.2"/>
<line x1="30.40" y1="154.58" x2="32.00" y2="154.58" stroke="#000" stroke-width="1.2"/>
<line x1="30.40" y1="153.41" x2="32.00" y2="153.41" stroke="#000" stroke-width="1.2"/>
<line x1="30.40" y1="152.46" x2="32.00" y2="152.46" stroke="#000" stroke-width="1.2"/>
<line x1="30.40" y1="151.66" x2="32.00" y2="151.66" stroke="#000" stroke-width="1.2"/>
<line x1="30.40" y1="150.96" x2="32.00" y2="150.96" stroke="#000" stroke-width="1.2"/>
<line x1="30.40" y1="150.35" x2="32.00" y2="150.35" stroke="#000" stroke-width="1.2"/>
<line x1="30.40" y1="146.19" x2="32.00" y2="146.19" stroke="#000" stroke-width="1.2"/>
<line x1="30.40" y1="144.07" x2="32.00" y2="144.07" stroke="#000" stroke-width="1.2"/>
<line x1="30.40" y1="142.58" x2="32.00" y2="142.58" stroke="#000" stroke-width="1.2"/>
<line x1="30.40" y1="141.41" x2="32.00" y2="141.41" stroke="#000" stroke-width="1.2"/>
<line x1="30.40" y1="140.46" x2="32.00" y2="140.46" stroke="#000" stroke-width="1.2"/>
<line x1="30.40" y1="139.66" x2="32.00" y2="139.66" stroke="#000" stroke-width="1.2"/>
<line x1="30.40" y1="138.96" x2="32.00" y2="138.96" stroke="#000" stroke-width="1.2"/>
<line x1="30.40" y1="138.35" x2="32.00" y2="138.35" stroke="#000" stroke-width="1.2"/>
<line x1="30.40" y1="134.19" x2="32.00" y2="134.19" stroke="#000" stroke-width="1.2"/>
<line x1="30.40" y1="132.07" x2="32.00" y2="132.07" stroke="#000" stroke-width="1.2"/>
<line x1="30.40" y1="130.58" x2="32.00" y2="130.58" stroke="#000" stroke-width="1.2"/>
<line x1="30.40" y1="129.41" x2="32.00" y2="129.41" stroke="#000" stroke-width="1.2"/>
<line x1="30.40" y1="128.46" x2="32.00" y2="128.46" stroke="#000" stroke-width="1.2"/>
<line x1="30.40" y1="127.66" x2="32.00" y2="127.66" stroke="#000" stroke-width="1.2"/>
<line x1="30.40" y1="126.96" x2="32.00" y2="126.96" stroke="#000" stroke-width="1.2"/>
<line x1="30.40" y1="126.35" x2="32.00" y2="126.35" stroke="#000" stroke-width="1.2"/>
<line x1="30.40" y1="122.19" x2="32.00" y2="122.19" stroke="#000" stroke-width="1.2"/>
<line x1="30.40" y1="120.07" x2="32.00" y2="120.07" stroke="#000" stroke-width="1.2"/>
<line x1="30.40" y1="118.58" x2="32.00" y2="118.58" stroke="#000" stroke-width="1.2"/>
<line x1="30.40" y1="117.41" x2="32.00" y2="117.41" stroke="#000" stroke-width="1.2"/>
<line x1="30.40" y1="116.46" x2="32.00" y2="116.46" stroke="#000" stroke-width="1.2"/>
<line x1="30.40" y1="115.66" x2="32.00" y2="115.66" stroke="#000" stroke-width="1.2"/>
<line x1="30.40" y1="114.96" x2="32.00" y2="114.96" stroke="#000" stroke-width="1.2"/>
<line x1="30.40" y1="114.35" x2="32.00" y2="114.35" stroke="#000" stroke-width="1.2"/>
<line x1="30.40" y1="110.19" x2="32.00" y2="110.19" stroke="#000" stroke-width="1.2"/>
<line x1="30.40" y1="108.07" x2="32.00" y2="108.07" stroke="#000" stroke-width="1.2"/>
<line x1="30.40" y1="106.58" x2="32.00" y2="106.58" stroke="#000" stroke-width="1.2"/>
<line x1="30.40" y1="105.41" x2="32.00" y2="105.41" stroke="#000" stroke-width="1.2"/>
<line x1="30.40" y1="104.46" x2="32.00" y2="104.46" stroke="#000" stroke-width="1.2"/>
<line x1="30.40" y1="103.66" x2="32.00" y2="103.66" stroke="#000" stroke-width="1.2"/>
<line x1="30.40" y1="102.96" x2="32.00" y2="102.96" stroke="#000" stroke-width="1.2"/>
<line x1="30.40" y1="102.35" x2="32.00" y2="102.35" stroke="#000" stroke-width="1.2"/>
<line x1="30.40" y1="98.19" x2="32.00" y2="98.19" stroke="#000" stroke-width="1.2"/>
<line x1="30.40" y1="96.07" x2="32.00" y2="96.07" stroke="#000" stroke-width="1.2"/>
<line x1="30.40" y1="94.58" x2="32.00" y2="94.58" stroke="#000" stroke-width="1.2"/>
<line x1="30.40" y1="93.41" x2="32.00" y2="93.41" stroke="#000" stroke-width="1.2"/>
<line x1="30.40" y1="92.46" x2="32.00" y2="92.46" stroke="#000" stroke-width="1.2"/>
<line x1="30.40" y1="91.66" x2="32.00" y2="91.66" stroke="#000" stroke-width="1.2"/>
<line x1="30.40" y1="90.96" x2="32.00" y2="90.96" stroke="#000" stroke-width="1.2"/>
<line x1="30.40" y1="90.35" x2="32.00" y2="90.35" stroke="#000" stroke-width="1.2"/>
<line x1="30.40" y1="86.19" x2="32.00" y2="86.19" stroke="#000" stroke-width="1.2"/>
<line x1="30.40" y1="84.07" x2="32.00" y2="84.07" stroke="#000" stroke-width="1.2"/>
<line x1="30.40" y1="82.58" x2="32.00" y2="82.58" stroke="#000" stroke-width="1.2"/>
<line x1="30.40" y1="81.41" x2="32.00" y2="81.41" stroke="#000" stroke-width="1.2"/>
<line x1="30.40" y1="80.46" x2="32.00" y2="80.46" stroke="#000" stroke-width="1.2"/>
<line x1="30.40" y1="79.66" x2="32.00" y2="79.66" stroke="#000" stroke-width="1.2"/>
<line x1="30.40" y1="78.96" x2="32.00" y2="78.96" stroke="#000" stroke-width="1.2"/>
<line x1="30.40" y1="78.35" x2="32.00" y2="78.35" stroke="#000" stroke-width="1.2"/>
<line x1="30.40" y1="74.19" x2="32.00" y2="74.19" stroke="#000" stroke-width="1.2"/>
<line x1="30.40" y1="72.07" x2="32.00" y2="72.07" stroke="#000" stroke-width="1.2"/>
<line x1="30.40" y1="70.58" x2="32.00" y2="70.58" stroke="#000" stroke-width="1.2"/>
<line x1="30.40" y1="69.41" x2="32.00" y2="69.41" stroke="#000" stroke-width="1.2"/>
<line x1="30.40" y1="68.46" x2="32.00" y2="68.46" stroke="#000" stroke-width="1.2"/>
<line x1="30.40" y1="67.66" x2="32.00" y2="67.66" stroke="#000" stroke-width="1.2"/>
<line x1="30.40" y1="66.96" x2="32.00" y2="66.96" stroke="#000" stroke-width="1.2"/>
<line x1="30.40" y1="66.35" x2="32.00" y2="66.35" stroke="#000" stroke-width="1.2"/>
<line x1="30.40" y1="62.19" x2="32.00" y2="62.19" stroke="#000" stroke-width="1.2"/>
<line x1="30.40" y1="60.07" x2="32.00" y2="60.07" stroke="#000" stroke-width="1.2"/>
<line x1="30.40" y1="58.58" x2="32.00" y2="58.58" stroke="#000" stroke-width="1.2"/>
<line x1="30.40" y1="57.41" x2="32.00" y2="57.41" stroke="#000" stroke-width="1.2"/>
<line x1="30.40" y1="56.46" x2="32.00" y2="56.46" stroke="#000" stroke-width="1.2"/>
<line x1="30.40" y1="55.66" x2="32.00" y2="55.66" stroke="#000" stroke-width="1.2"/>
<line x1="30.40" y1="54.96" x2="32.00" y2="54.96" stroke="#000" stroke-width="1.2"/>
<line x1="30.40" y1="54.35" x2="32.00" y2="54.35" stroke="#000" stroke-width="1.2"/>
<line x1="30.40" y1="50.19" x2="32.00" y2="50.19" stroke="#000" stroke-width="1.2"/>
<line x1="30.40" y1="48.07" x2="32.00" y2="48.07" stroke="#000" stroke-width="1.2"/>
<line x1="30.40" y1="46.58" x2="32.00" y2="46.58" stroke="#000" stroke-width="1.2"/>
<line x1="30.40" y1="45.41" x2="32.00" y2="45.41" stroke="#000" stroke-width="1.2"/>
<line x1="30.40" y1="44.46" x2="32.00" y2="44.46" stroke="#000" stroke-width="1.2"/>
<line x1="30.40" y1="43.66" x2="32.00" y2="43.66" stroke="#000" stroke-width="1.2"/>
<line x1="30.40" y1="42.96" x2="32.00" y2="42.96" stroke="#000" stroke-width="1.2"/>
<line x1="30.40" y1="42.35" x2="32.00" y2="42.35" stroke="#000" stroke-width="1.2"/>
<line x1="30.40" y1="38.19" x2="32.00" y2="38.19" stroke="#000" stroke-width="1.2"/>
<line x1="30.40" y1="36.07" x2="32.00" y2="36.07" stroke="#000" stroke-width="1.2"/>
<line x1="30.40" y1="34.58" x2="32.00" y2="34.58" stroke="#000" stroke-width="1.2"/>
<line x1="30.40" y1="33.41" x2="32.00" y2="33.41" stroke="#000" stroke-width="1.2"/>
<line x1="30.40" y1="32.46" x2="32.00" y2="32.46" stroke="#000" stroke-width="1.2"/>
<line x1="30.40" y1="31.66" x2="32.00" y2="31.66" stroke="#000" stroke-width="1.2"/>
<line x1="30.40" y1="30.96" x2="32.00" y2="30.96" stroke="#000" stroke-width="1.2"/>
<line x1="30.40" y1="30.35" x2="32.00" y2="30.35" stroke="#000" stroke-width="1.2"/>
<line x1="30.40" y1="26.19" x2="32.00" y2="26.19" stroke="#000" stroke-width="1.2"/>
<line x1="30.40" y1="24.07" x2="32.00" y2="24.07" stroke="#000" stroke-width="1.2"/>
<line x1="30.40" y1="22.58" x2="32.00" y2="22.58" stroke="#000" stroke-width="1.2"/>
<line x1="30.40" y1="21.41" x2="32.00" y2="21.41" stroke="#000" stroke-width="1.2"/>
<line x1="30.40" y1="20.46" x2="32.00" y2="20.46" stroke="#000" stroke-width="1.2"/>
<line x1="30.40" y1="19.66" x2="32.00" y2="19.66" stroke="#000" stroke-width="1.2"/>
<line x1="30.40" y1="18.96" x2="32.00" y2="18.96" stroke="#000" stroke-width="1.2"/>
<line x1="30.40" y1="18.35" x2="32.00" y2="18.35" stroke="#000" stroke-width="1.2"/>
<line x1="30.40" y1="14.19" x2="32.00" y2="14.19" stroke="#000" stroke-width="1.2"/>
<line x1="30.40" y1="12.07" x2="32.00" y2="12.07" stroke="#000" stroke-width="1.2"/>
<line x1="30.40" y1="10.58" x2="32.00" y2="10.58" stroke="#000" stroke-width="1.2"/>
<line x1="30.40" y1="9.41" x2="32.00" y2="9.41" stroke="#000" stroke-width="1.2"/>
<line x1="30.40" y1="8.46" x2="32.00" y2="8.46" stroke="#000" stroke-width="1.2"/>
<line x1="30.40" y1="7.66" x2="32.00" y2="7.66" stroke="#000" stroke-width="1.2"/>
<line x1="30.40" y1="6.96" x2="32.00" y2="6.96" stroke="#000" stroke-width="1.2"/>
<line x1="30.40" y1="6.35" x2="32.00" y2="6.35" stroke="#000" stroke-width="1.2"/>
<text x="27.20" y="8.10" font-size="6.7" font-weight="bold" text-anchor="end" fill="#000" stroke="#000" stroke-width="0.08">10<tspan font-size="4.5" dx="-0.2" dy="-2.6">-3</tspan></text>
<text x="27.20" y="20.10" font-size="6.7" font-weight="bold" text-anchor="end" fill="#000" stroke="#000" stroke-width="0.08">10<tspan font-size="4.5" dx="-0.2" dy="-2.6">-4</tspan></text>
<text x="27.20" y="32.10" font-size="6.7" font-weight="bold" text-anchor="end" fill="#000" stroke="#000" stroke-width="0.08">10<tspan font-size="4.5" dx="-0.2" dy="-2.6">-5</tspan></text>
<text x="27.20" y="44.10" font-size="6.7" font-weight="bold" text-anchor="end" fill="#000" stroke="#000" stroke-width="0.08">10<tspan font-size="4.5" dx="-0.2" dy="-2.6">-6</tspan></text>
<text x="27.20" y="56.10" font-size="6.7" font-weight="bold" text-anchor="end" fill="#000" stroke="#000" stroke-width="0.08">10<tspan font-size="4.5" dx="-0.2" dy="-2.6">-7</tspan></text>
<text x="27.20" y="68.10" font-size="6.7" font-weight="bold" text-anchor="end" fill="#000" stroke="#000" stroke-width="0.08">10<tspan font-size="4.5" dx="-0.2" dy="-2.6">-8</tspan></text>
<text x="27.20" y="80.10" font-size="6.7" font-weight="bold" text-anchor="end" fill="#000" stroke="#000" stroke-width="0.08">10<tspan font-size="4.5" dx="-0.2" dy="-2.6">-9</tspan></text>
<text x="27.20" y="92.10" font-size="6.7" font-weight="bold" text-anchor="end" fill="#000" stroke="#000" stroke-width="0.08">10<tspan font-size="4.5" dx="-0.2" dy="-2.6">-10</tspan></text>
<text x="27.20" y="104.10" font-size="6.7" font-weight="bold" text-anchor="end" fill="#000" stroke="#000" stroke-width="0.08">10<tspan font-size="4.5" dx="-0.2" dy="-2.6">-11</tspan></text>
<text x="27.20" y="116.10" font-size="6.7" font-weight="bold" text-anchor="end" fill="#000" stroke="#000" stroke-width="0.08">10<tspan font-size="4.5" dx="-0.2" dy="-2.6">-12</tspan></text>
<text x="27.20" y="128.10" font-size="6.7" font-weight="bold" text-anchor="end" fill="#000" stroke="#000" stroke-width="0.08">10<tspan font-size="4.5" dx="-0.2" dy="-2.6">-13</tspan></text>
<text x="27.20" y="140.10" font-size="6.7" font-weight="bold" text-anchor="end" fill="#000" stroke="#000" stroke-width="0.08">10<tspan font-size="4.5" dx="-0.2" dy="-2.6">-14</tspan></text>
<text x="27.20" y="152.10" font-size="6.7" font-weight="bold" text-anchor="end" fill="#000" stroke="#000" stroke-width="0.08">10<tspan font-size="4.5" dx="-0.2" dy="-2.6">-15</tspan></text>
<line x1="242.40" y1="158.50" x2="245.40" y2="158.50" stroke="#000" stroke-width="1.2"/>
<line x1="242.40" y1="110.20" x2="245.40" y2="110.20" stroke="#000" stroke-width="1.2"/>
<line x1="242.40" y1="61.90" x2="245.40" y2="61.90" stroke="#000" stroke-width="1.2"/>
<line x1="242.40" y1="13.60" x2="245.40" y2="13.60" stroke="#000" stroke-width="1.2"/>
<line x1="242.40" y1="134.35" x2="244.20" y2="134.35" stroke="#000" stroke-width="1.2"/>
<line x1="242.40" y1="86.05" x2="244.20" y2="86.05" stroke="#000" stroke-width="1.2"/>
<line x1="242.40" y1="37.75" x2="244.20" y2="37.75" stroke="#000" stroke-width="1.2"/>
<text x="246.00" y="160.80" font-size="6.7" font-weight="bold" text-anchor="start" fill="#000" stroke="#000" stroke-width="0.08">0.0</text>
<text x="246.00" y="112.50" font-size="6.7" font-weight="bold" text-anchor="start" fill="#000" stroke="#000" stroke-width="0.08">5.0x10<tspan font-size="4.5" dx="-0.2" dy="-2.6">-5</tspan></text>
<text x="246.00" y="64.20" font-size="6.7" font-weight="bold" text-anchor="start" fill="#000" stroke="#000" stroke-width="0.08">1.0x10<tspan font-size="4.5" dx="-0.2" dy="-2.6">-4</tspan></text>
<text x="246.00" y="15.90" font-size="6.7" font-weight="bold" text-anchor="start" fill="#000" stroke="#000" stroke-width="0.08">1.5x10<tspan font-size="4.5" dx="-0.2" dy="-2.6">-4</tspan></text>
<text x="137.40" y="182.50" font-size="8.3" font-weight="bold" text-anchor="middle" fill="#000" stroke="#000" stroke-width="0.18">Gate Voltage(V)</text>
<text x="0.00" y="0.00" font-size="8.3" font-weight="bold" text-anchor="middle" fill="#000" stroke="#000" stroke-width="0.18" transform="translate(8.1,86.3) rotate(-90)">Drain Current(A/μm)</text>
<text x="0.00" y="0.00" font-size="8.3" font-weight="bold" text-anchor="middle" fill="#000" stroke="#000" stroke-width="0.18" transform="translate(279.7,86.3) rotate(-90)">Drain Current(A/μm)</text>
<text x="37.50" y="21.40" font-size="13.4" font-weight="normal" text-anchor="start" fill="#000" stroke="#000" stroke-width="0.09">a</text>
<text x="56.20" y="21.30" font-size="8.25" font-weight="bold" text-anchor="start" fill="#000" stroke="#000" stroke-width="0.18">Vds=1V, ρ=1e10</text>
<line x1="90.80" y1="57.90" x2="109.50" y2="57.90" stroke="#000000" stroke-width="1.1"/>
<text x="111.80" y="60.90" font-size="8.5" font-weight="normal" text-anchor="start" fill="#000" stroke="#000" stroke-width="0.09">Lg=3nm</text>
<line x1="90.80" y1="68.03" x2="109.50" y2="68.03" stroke="#ff0000" stroke-width="1.1"/>
<text x="111.80" y="71.03" font-size="8.5" font-weight="normal" text-anchor="start" fill="#000" stroke="#000" stroke-width="0.09">Lg=4nm</text>
<line x1="90.80" y1="78.16" x2="109.50" y2="78.16" stroke="#0000ff" stroke-width="1.1"/>
<text x="111.80" y="81.16" font-size="8.5" font-weight="normal" text-anchor="start" fill="#000" stroke="#000" stroke-width="0.09">Lg=5nm</text>
<line x1="90.80" y1="88.29" x2="109.50" y2="88.29" stroke="#ff00ff" stroke-width="1.1"/>
<text x="111.80" y="91.29" font-size="8.5" font-weight="normal" text-anchor="start" fill="#000" stroke="#000" stroke-width="0.09">Lg=6nm</text>
<line x1="90.80" y1="98.42" x2="109.50" y2="98.42" stroke="#008000" stroke-width="1.1"/>
<text x="111.80" y="101.42" font-size="8.5" font-weight="normal" text-anchor="start" fill="#000" stroke="#000" stroke-width="0.09">Lg=7nm</text>
<line x1="90.80" y1="108.55" x2="109.50" y2="108.55" stroke="#000080" stroke-width="1.1"/>
<text x="111.80" y="111.55" font-size="8.5" font-weight="normal" text-anchor="start" fill="#000" stroke="#000" stroke-width="0.09">Lg=8nm</text>
<line x1="90.80" y1="118.68" x2="109.50" y2="118.68" stroke="#8000ff" stroke-width="1.1"/>
<text x="111.80" y="121.68" font-size="8.5" font-weight="normal" text-anchor="start" fill="#000" stroke="#000" stroke-width="0.09">Lg=9nm</text>
<line x1="90.80" y1="128.81" x2="109.50" y2="128.81" stroke="#800080" stroke-width="1.1"/>
<text x="111.80" y="131.81" font-size="8.5" font-weight="normal" text-anchor="start" fill="#000" stroke="#000" stroke-width="0.09">Lg=10nm</text>
<text x="158.40" y="44.10" font-size="7.0" font-weight="normal" fill="#000" stroke="#000" stroke-width="0.18">Φ<tspan font-size="4.1" font-weight="bold" dy="1.8">M1</tspan><tspan font-weight="bold" dy="-1.8">=4.2eV</tspan></text>
<text x="158.40" y="55.10" font-size="7.0" font-weight="normal" fill="#000" stroke="#000" stroke-width="0.18">Φ<tspan font-size="4.1" font-weight="bold" dy="1.8">M2</tspan><tspan font-weight="bold" dy="-1.8">=3.9eV</tspan></text>
<text x="158.40" y="66.10" font-size="7.0" font-weight="normal" fill="#000" stroke="#000" stroke-width="0.18">Φ<tspan font-size="4.1" font-weight="bold" dy="1.8">BG</tspan><tspan font-weight="bold" dy="-1.8">=4.2eV</tspan></text>
<text x="158.40" y="77.10" font-size="7.0" font-weight="normal" fill="#000" stroke="#000" stroke-width="0.18">Φ<tspan font-size="4.1" font-weight="bold" dy="1.8">PG</tspan><tspan font-weight="bold" dy="-1.8">=5.9eV</tspan></text>
<path d="M350,159 L350,3.7 L560.2,3.7" fill="none" stroke="#000" stroke-width="1.4"/>
<path d="M350,159 L560.2,159" fill="none" stroke="#000" stroke-width="1.4"/>
<path d="M560.2,3.7 L560.2,159.6" fill="none" stroke="#0000ff" stroke-width="1.4"/>
<line x1="350.00" y1="159.00" x2="350.00" y2="162.20" stroke="#000" stroke-width="1.2"/>
<line x1="350.00" y1="3.70" x2="350.00" y2="6.30" stroke="#000" stroke-width="1.2"/>
<line x1="373.35" y1="159.00" x2="373.35" y2="162.20" stroke="#000" stroke-width="1.2"/>
<line x1="373.35" y1="3.70" x2="373.35" y2="6.30" stroke="#000" stroke-width="1.2"/>
<line x1="396.70" y1="159.00" x2="396.70" y2="162.20" stroke="#000" stroke-width="1.2"/>
<line x1="396.70" y1="3.70" x2="396.70" y2="6.30" stroke="#000" stroke-width="1.2"/>
<line x1="420.05" y1="159.00" x2="420.05" y2="162.20" stroke="#000" stroke-width="1.2"/>
<line x1="420.05" y1="3.70" x2="420.05" y2="6.30" stroke="#000" stroke-width="1.2"/>
<line x1="443.40" y1="159.00" x2="443.40" y2="162.20" stroke="#000" stroke-width="1.2"/>
<line x1="443.40" y1="3.70" x2="443.40" y2="6.30" stroke="#000" stroke-width="1.2"/>
<line x1="466.75" y1="159.00" x2="466.75" y2="162.20" stroke="#000" stroke-width="1.2"/>
<line x1="466.75" y1="3.70" x2="466.75" y2="6.30" stroke="#000" stroke-width="1.2"/>
<line x1="490.10" y1="159.00" x2="490.10" y2="162.20" stroke="#000" stroke-width="1.2"/>
<line x1="490.10" y1="3.70" x2="490.10" y2="6.30" stroke="#000" stroke-width="1.2"/>
<line x1="513.45" y1="159.00" x2="513.45" y2="162.20" stroke="#000" stroke-width="1.2"/>
<line x1="513.45" y1="3.70" x2="513.45" y2="6.30" stroke="#000" stroke-width="1.2"/>
<line x1="536.80" y1="159.00" x2="536.80" y2="162.20" stroke="#000" stroke-width="1.2"/>
<line x1="536.80" y1="3.70" x2="536.80" y2="6.30" stroke="#000" stroke-width="1.2"/>
<line x1="560.15" y1="159.00" x2="560.15" y2="162.20" stroke="#000" stroke-width="1.2"/>
<line x1="560.15" y1="3.70" x2="560.15" y2="6.30" stroke="#000" stroke-width="1.2"/>
<line x1="361.68" y1="159.00" x2="361.68" y2="161.00" stroke="#000" stroke-width="1.2"/>
<line x1="361.68" y1="3.70" x2="361.68" y2="5.30" stroke="#000" stroke-width="1.2"/>
<line x1="385.02" y1="159.00" x2="385.02" y2="161.00" stroke="#000" stroke-width="1.2"/>
<line x1="385.02" y1="3.70" x2="385.02" y2="5.30" stroke="#000" stroke-width="1.2"/>
<line x1="408.38" y1="159.00" x2="408.38" y2="161.00" stroke="#000" stroke-width="1.2"/>
<line x1="408.38" y1="3.70" x2="408.38" y2="5.30" stroke="#000" stroke-width="1.2"/>
<line x1="431.73" y1="159.00" x2="431.73" y2="161.00" stroke="#000" stroke-width="1.2"/>
<line x1="431.73" y1="3.70" x2="431.73" y2="5.30" stroke="#000" stroke-width="1.2"/>
<line x1="455.07" y1="159.00" x2="455.07" y2="161.00" stroke="#000" stroke-width="1.2"/>
<line x1="455.07" y1="3.70" x2="455.07" y2="5.30" stroke="#000" stroke-width="1.2"/>
<line x1="478.43" y1="159.00" x2="478.43" y2="161.00" stroke="#000" stroke-width="1.2"/>
<line x1="478.43" y1="3.70" x2="478.43" y2="5.30" stroke="#000" stroke-width="1.2"/>
<line x1="501.77" y1="159.00" x2="501.77" y2="161.00" stroke="#000" stroke-width="1.2"/>
<line x1="501.77" y1="3.70" x2="501.77" y2="5.30" stroke="#000" stroke-width="1.2"/>
<line x1="525.12" y1="159.00" x2="525.12" y2="161.00" stroke="#000" stroke-width="1.2"/>
<line x1="525.12" y1="3.70" x2="525.12" y2="5.30" stroke="#000" stroke-width="1.2"/>
<line x1="548.48" y1="159.00" x2="548.48" y2="161.00" stroke="#000" stroke-width="1.2"/>
<line x1="548.48" y1="3.70" x2="548.48" y2="5.30" stroke="#000" stroke-width="1.2"/>
<text x="350.00" y="169.60" font-size="6.7" font-weight="bold" text-anchor="middle" fill="#000" stroke="#000" stroke-width="0.08">2</text>
<text x="373.35" y="169.60" font-size="6.7" font-weight="bold" text-anchor="middle" fill="#000" stroke="#000" stroke-width="0.08">3</text>
<text x="396.70" y="169.60" font-size="6.7" font-weight="bold" text-anchor="middle" fill="#000" stroke="#000" stroke-width="0.08">4</text>
<text x="420.05" y="169.60" font-size="6.7" font-weight="bold" text-anchor="middle" fill="#000" stroke="#000" stroke-width="0.08">5</text>
<text x="443.40" y="169.60" font-size="6.7" font-weight="bold" text-anchor="middle" fill="#000" stroke="#000" stroke-width="0.08">6</text>
<text x="466.75" y="169.60" font-size="6.7" font-weight="bold" text-anchor="middle" fill="#000" stroke="#000" stroke-width="0.08">7</text>
<text x="490.10" y="169.60" font-size="6.7" font-weight="bold" text-anchor="middle" fill="#000" stroke="#000" stroke-width="0.08">8</text>
<text x="513.45" y="169.60" font-size="6.7" font-weight="bold" text-anchor="middle" fill="#000" stroke="#000" stroke-width="0.08">9</text>
<text x="536.80" y="169.60" font-size="6.7" font-weight="bold" text-anchor="middle" fill="#000" stroke="#000" stroke-width="0.08">10</text>
<text x="560.15" y="169.60" font-size="6.7" font-weight="bold" text-anchor="middle" fill="#000" stroke="#000" stroke-width="0.08">11</text>
<line x1="347.00" y1="143.75" x2="350.00" y2="143.75" stroke="#000" stroke-width="1.2"/>
<line x1="347.00" y1="123.75" x2="350.00" y2="123.75" stroke="#000" stroke-width="1.2"/>
<line x1="347.00" y1="103.75" x2="350.00" y2="103.75" stroke="#000" stroke-width="1.2"/>
<line x1="347.00" y1="83.75" x2="350.00" y2="83.75" stroke="#000" stroke-width="1.2"/>
<line x1="347.00" y1="63.75" x2="350.00" y2="63.75" stroke="#000" stroke-width="1.2"/>
<line x1="347.00" y1="43.75" x2="350.00" y2="43.75" stroke="#000" stroke-width="1.2"/>
<line x1="347.00" y1="23.75" x2="350.00" y2="23.75" stroke="#000" stroke-width="1.2"/>
<line x1="347.00" y1="3.75" x2="350.00" y2="3.75" stroke="#000" stroke-width="1.2"/>
<line x1="348.20" y1="153.75" x2="350.00" y2="153.75" stroke="#000" stroke-width="1.2"/>
<line x1="348.20" y1="133.75" x2="350.00" y2="133.75" stroke="#000" stroke-width="1.2"/>
<line x1="348.20" y1="113.75" x2="350.00" y2="113.75" stroke="#000" stroke-width="1.2"/>
<line x1="348.20" y1="93.75" x2="350.00" y2="93.75" stroke="#000" stroke-width="1.2"/>
<line x1="348.20" y1="73.75" x2="350.00" y2="73.75" stroke="#000" stroke-width="1.2"/>
<line x1="348.20" y1="53.75" x2="350.00" y2="53.75" stroke="#000" stroke-width="1.2"/>
<line x1="348.20" y1="33.75" x2="350.00" y2="33.75" stroke="#000" stroke-width="1.2"/>
<line x1="348.20" y1="13.75" x2="350.00" y2="13.75" stroke="#000" stroke-width="1.2"/>
<text x="344.60" y="146.05" font-size="6.7" font-weight="bold" text-anchor="end" fill="#000" stroke="#000" stroke-width="0.08">2.0x10<tspan font-size="4.5" dx="-0.2" dy="-2.6">-5</tspan></text>
<text x="344.60" y="126.05" font-size="6.7" font-weight="bold" text-anchor="end" fill="#000" stroke="#000" stroke-width="0.08">4.0x10<tspan font-size="4.5" dx="-0.2" dy="-2.6">-5</tspan></text>
<text x="344.60" y="106.05" font-size="6.7" font-weight="bold" text-anchor="end" fill="#000" stroke="#000" stroke-width="0.08">6.0x10<tspan font-size="4.5" dx="-0.2" dy="-2.6">-5</tspan></text>
<text x="344.60" y="86.05" font-size="6.7" font-weight="bold" text-anchor="end" fill="#000" stroke="#000" stroke-width="0.08">8.0x10<tspan font-size="4.5" dx="-0.2" dy="-2.6">-5</tspan></text>
<text x="344.60" y="66.05" font-size="6.7" font-weight="bold" text-anchor="end" fill="#000" stroke="#000" stroke-width="0.08">1.0x10<tspan font-size="4.5" dx="-0.2" dy="-2.6">-4</tspan></text>
<text x="344.60" y="46.05" font-size="6.7" font-weight="bold" text-anchor="end" fill="#000" stroke="#000" stroke-width="0.08">1.2x10<tspan font-size="4.5" dx="-0.2" dy="-2.6">-4</tspan></text>
<text x="344.60" y="26.05" font-size="6.7" font-weight="bold" text-anchor="end" fill="#000" stroke="#000" stroke-width="0.08">1.4x10<tspan font-size="4.5" dx="-0.2" dy="-2.6">-4</tspan></text>
<text x="344.60" y="6.05" font-size="6.7" font-weight="bold" text-anchor="end" fill="#000" stroke="#000" stroke-width="0.08">1.6x10<tspan font-size="4.5" dx="-0.2" dy="-2.6">-4</tspan></text>
<line x1="560.20" y1="127.40" x2="563.20" y2="127.40" stroke="#0000ff" stroke-width="1.2"/>
<line x1="560.20" y1="90.60" x2="563.20" y2="90.60" stroke="#0000ff" stroke-width="1.2"/>
<line x1="560.20" y1="53.80" x2="563.20" y2="53.80" stroke="#0000ff" stroke-width="1.2"/>
<line x1="560.20" y1="17.00" x2="563.20" y2="17.00" stroke="#0000ff" stroke-width="1.2"/>
<line x1="560.20" y1="145.80" x2="562.00" y2="145.80" stroke="#0000ff" stroke-width="1.2"/>
<line x1="560.20" y1="109.00" x2="562.00" y2="109.00" stroke="#0000ff" stroke-width="1.2"/>
<line x1="560.20" y1="72.20" x2="562.00" y2="72.20" stroke="#0000ff" stroke-width="1.2"/>
<line x1="560.20" y1="35.40" x2="562.00" y2="35.40" stroke="#0000ff" stroke-width="1.2"/>
<line x1="560.20" y1="-1.40" x2="562.00" y2="-1.40" stroke="#0000ff" stroke-width="1.2"/>
<text x="565.40" y="129.70" font-size="6.7" font-weight="bold" text-anchor="start" fill="#0000ff" stroke="#0000ff" stroke-width="0.08">0.00</text>
<text x="565.40" y="92.90" font-size="6.7" font-weight="bold" text-anchor="start" fill="#0000ff" stroke="#0000ff" stroke-width="0.08">1.20x10<tspan font-size="4.5" dx="-0.2" dy="-2.6">10</tspan></text>
<text x="565.40" y="56.10" font-size="6.7" font-weight="bold" text-anchor="start" fill="#0000ff" stroke="#0000ff" stroke-width="0.08">2.40x10<tspan font-size="4.5" dx="-0.2" dy="-2.6">10</tspan></text>
<text x="565.40" y="19.30" font-size="6.7" font-weight="bold" text-anchor="start" fill="#0000ff" stroke="#0000ff" stroke-width="0.08">3.60x10<tspan font-size="4.5" dx="-0.2" dy="-2.6">10</tspan></text>
<text x="454.80" y="182.50" font-size="8.3" font-weight="bold" text-anchor="middle" fill="#000" stroke="#000" stroke-width="0.18">Length of pocket(/nm)</text>
<text x="0.00" y="0.00" font-size="8.3" font-weight="bold" text-anchor="middle" fill="#000" stroke="#000" stroke-width="0.18" transform="translate(312.0,86.4) rotate(-90)">Ion(A/μm)</text>
<text x="0.00" y="0.00" font-size="8.1" font-weight="normal" text-anchor="middle" fill="#000" stroke="#000" stroke-width="0.09" transform="translate(601.2,86.7) rotate(-90)">Ion/Ioff</text>
<text x="356.80" y="22.40" font-size="13.2" font-weight="normal" text-anchor="start" fill="#000" stroke="#000" stroke-width="0.09">b</text>
<text x="375.00" y="24.20" font-size="8.3" font-weight="bold" text-anchor="start" fill="#000" stroke="#000" stroke-width="0.18">Vds=1V, ρ=1e10</text>
<polyline points="373.35,33.30 396.70,41.70 420.05,37.10 443.40,46.40 466.75,58.60 490.10,73.40 513.45,88.10 536.80,102.60" fill="none" stroke="#ff0000" stroke-width="1.5" stroke-linejoin="round" stroke-linecap="round"/>
<circle cx="373.35" cy="33.30" r="2.0" fill="#ff0000"/>
<circle cx="396.70" cy="41.70" r="2.0" fill="#ff0000"/>
<circle cx="420.05" cy="37.10" r="2.0" fill="#ff0000"/>
<circle cx="443.40" cy="46.40" r="2.0" fill="#ff0000"/>
<circle cx="466.75" cy="58.60" r="2.0" fill="#ff0000"/>
<circle cx="490.10" cy="73.40" r="2.0" fill="#ff0000"/>
<circle cx="513.45" cy="88.10" r="2.0" fill="#ff0000"/>
<circle cx="536.80" cy="102.60" r="2.0" fill="#ff0000"/>
<polyline points="373.35,96.60 396.70,99.00 420.05,85.40 443.40,70.90 466.75,92.30 490.10,121.30 513.45,125.90 536.80,127.10" fill="none" stroke="#0000ff" stroke-width="1.5" stroke-linejoin="round" stroke-linecap="round"/>
<circle cx="373.35" cy="96.60" r="2.0" fill="#0000ff"/>
<circle cx="396.70" cy="99.00" r="2.0" fill="#0000ff"/>
<circle cx="420.05" cy="85.40" r="2.0" fill="#0000ff"/>
<circle cx="443.40" cy="70.90" r="2.0" fill="#0000ff"/>
<circle cx="466.75" cy="92.30" r="2.0" fill="#0000ff"/>
<circle cx="490.10" cy="121.30" r="2.0" fill="#0000ff"/>
<circle cx="513.45" cy="125.90" r="2.0" fill="#0000ff"/>
<circle cx="536.80" cy="127.10" r="2.0" fill="#0000ff"/>
<line x1="373.30" y1="56.20" x2="388.70" y2="56.20" stroke="#ff0000" stroke-width="1.5"/>
<circle cx="381.00" cy="56.20" r="2.0" fill="#ff0000"/>
<text x="391.00" y="58.60" font-size="6.6" font-weight="normal" text-anchor="start" fill="#000" stroke="#000" stroke-width="0.09">Ion</text>
<line x1="373.30" y1="64.40" x2="388.70" y2="64.40" stroke="#0000ff" stroke-width="1.5"/>
<circle cx="381.00" cy="64.40" r="2.0" fill="#0000ff"/>
<text x="391.00" y="66.80" font-size="6.6" font-weight="normal" text-anchor="start" fill="#000" stroke="#000" stroke-width="0.09">Ion/Ioff</text>
<text x="505.60" y="39.30" font-size="7.0" font-weight="normal" fill="#000" stroke="#000" stroke-width="0.18">Φ<tspan font-size="4.1" font-weight="bold" dy="1.8">M1</tspan><tspan font-weight="bold" dy="-1.8">=4.2eV</tspan></text>
<text x="505.60" y="50.15" font-size="7.0" font-weight="normal" fill="#000" stroke="#000" stroke-width="0.18">Φ<tspan font-size="4.1" font-weight="bold" dy="1.8">M2</tspan><tspan font-weight="bold" dy="-1.8">=3.9eV</tspan></text>
<text x="505.60" y="61.00" font-size="7.0" font-weight="normal" fill="#000" stroke="#000" stroke-width="0.18">Φ<tspan font-size="4.1" font-weight="bold" dy="1.8">BG</tspan><tspan font-weight="bold" dy="-1.8">=4.2eV</tspan></text>
<text x="505.60" y="71.85" font-size="7.0" font-weight="normal" fill="#000" stroke="#000" stroke-width="0.18">Φ<tspan font-size="4.1" font-weight="bold" dy="1.8">PG</tspan><tspan font-weight="bold" dy="-1.8">=5.9eV</tspan></text>
<clipPath id="cc"><rect x="32.2" y="202.5" width="210.10000000000002" height="155.8"/></clipPath>
<g clip-path="url(#cc)">
<polyline points="33.00,358.29 35.50,358.29 38.00,358.28 40.50,358.28 43.00,358.28 45.50,358.28 48.00,358.27 50.50,358.27 53.00,358.27 55.50,358.26 58.00,358.26 60.50,358.25 63.00,358.24 65.50,358.23 68.00,358.23 70.50,358.21 73.00,358.20 75.50,358.19 78.00,358.17 80.50,358.15 83.00,358.13 85.50,358.11 88.00,358.08 90.50,358.05 93.00,358.02 95.50,357.98 98.00,357.93 100.50,357.88 103.00,357.82 105.50,357.75 108.00,357.67 110.50,357.59 113.00,357.49 115.50,357.37 118.00,357.25 120.50,357.10 123.00,356.94 125.50,356.75 128.00,356.54 130.50,356.30 133.00,356.03 135.50,355.73 138.00,355.39 140.50,355.02 143.00,354.60 145.50,354.13 148.00,353.60 150.50,353.03 153.00,352.39 155.50,351.69 158.00,350.93 160.50,350.09 163.00,349.19 165.50,348.21 168.00,347.15 170.50,346.02 173.00,344.81 175.50,343.53 178.00,342.17 180.50,340.74 183.00,339.24 185.50,337.68 188.00,336.05 190.50,334.36 193.00,332.61 195.50,330.82 198.00,328.97 200.50,327.08 203.00,325.15 205.50,323.18 208.00,321.17 210.50,319.14 213.00,317.08 215.50,314.99 218.00,312.88 220.50,310.76 223.00,308.61 225.50,306.45 228.00,304.28 230.50,302.09 233.00,299.89" fill="none" stroke="#000000" stroke-width="1.1" stroke-linejoin="round" stroke-linecap="round"/>
<polyline points="33.00,358.27 35.50,358.27 38.00,358.27 40.50,358.26 43.00,358.26 45.50,358.25 48.00,358.25 50.50,358.24 53.00,358.23 55.50,358.22 58.00,358.21 60.50,358.20 63.00,358.19 65.50,358.17 68.00,358.16 70.50,358.14 73.00,358.11 75.50,358.09 78.00,358.06 80.50,358.03 83.00,358.00 85.50,357.96 88.00,357.91 90.50,357.86 93.00,357.80 95.50,357.74 98.00,357.66 100.50,357.58 103.00,357.49 105.50,357.38 108.00,357.26 110.50,357.13 113.00,356.98 115.50,356.81 118.00,356.62 120.50,356.40 123.00,356.16 125.50,355.89 128.00,355.59 130.50,355.26 133.00,354.88 135.50,354.46 138.00,354.00 140.50,353.48 143.00,352.92 145.50,352.29 148.00,351.60 150.50,350.84 153.00,350.01 155.50,349.10 158.00,348.12 160.50,347.05 163.00,345.90 165.50,344.66 168.00,343.33 170.50,341.91 173.00,340.41 175.50,338.81 178.00,337.13 180.50,335.35 183.00,333.50 185.50,331.56 188.00,329.55 190.50,327.46 193.00,325.31 195.50,323.08 198.00,320.80 200.50,318.46 203.00,316.06 205.50,313.62 208.00,311.13 210.50,308.60 213.00,306.03 215.50,303.43 218.00,300.80 220.50,298.14 223.00,295.45 225.50,292.75 228.00,290.02 230.50,287.27 233.00,284.51" fill="none" stroke="#ff0000" stroke-width="1.1" stroke-linejoin="round" stroke-linecap="round"/>
<polyline points="33.00,358.28 35.50,358.28 38.00,358.28 40.50,358.28 43.00,358.27 45.50,358.27 48.00,358.26 50.50,358.26 53.00,358.25 55.50,358.24 58.00,358.24 60.50,358.23 63.00,358.22 65.50,358.20 68.00,358.19 70.50,358.17 73.00,358.15 75.50,358.13 78.00,358.11 80.50,358.08 83.00,358.04 85.50,358.00 88.00,357.96 90.50,357.91 93.00,357.85 95.50,357.78 98.00,357.71 100.50,357.62 103.00,357.52 105.50,357.40 108.00,357.27 110.50,357.12 113.00,356.95 115.50,356.75 118.00,356.52 120.50,356.27 123.00,355.98 125.50,355.65 128.00,355.27 130.50,354.85 133.00,354.37 135.50,353.83 138.00,353.23 140.50,352.55 143.00,351.80 145.50,350.96 148.00,350.03 150.50,349.00 153.00,347.88 155.50,346.65 158.00,345.30 160.50,343.85 163.00,342.28 165.50,340.60 168.00,338.81 170.50,336.90 173.00,334.88 175.50,332.76 178.00,330.53 180.50,328.21 183.00,325.79 185.50,323.29 188.00,320.71 190.50,318.06 193.00,315.34 195.50,312.56 198.00,309.73 200.50,306.84 203.00,303.91 205.50,300.94 208.00,297.93 210.50,294.89 213.00,291.83 215.50,288.73 218.00,285.62 220.50,282.49 223.00,279.34 225.50,276.17 228.00,272.99 230.50,269.80 233.00,266.60" fill="none" stroke="#0000ff" stroke-width="1.1" stroke-linejoin="round" stroke-linecap="round"/>
<polyline points="33.00,358.28 35.50,358.28 38.00,358.28 40.50,358.28 43.00,358.27 45.50,358.27 48.00,358.26 50.50,358.26 53.00,358.25 55.50,358.24 58.00,358.23 60.50,358.22 63.00,358.21 65.50,358.20 68.00,358.18 70.50,358.17 73.00,358.15 75.50,358.12 78.00,358.10 80.50,358.06 83.00,358.03 85.50,357.99 88.00,357.94 90.50,357.89 93.00,357.82 95.50,357.75 98.00,357.67 100.50,357.57 103.00,357.46 105.50,357.34 108.00,357.19 110.50,357.03 113.00,356.84 115.50,356.62 118.00,356.38 120.50,356.10 123.00,355.78 125.50,355.42 128.00,355.00 130.50,354.54 133.00,354.01 135.50,353.42 138.00,352.75 140.50,352.01 143.00,351.17 145.50,350.25 148.00,349.23 150.50,348.10 153.00,346.86 155.50,345.51 158.00,344.03 160.50,342.44 163.00,340.73 165.50,338.90 168.00,336.94 170.50,334.87 173.00,332.69 175.50,330.39 178.00,327.99 180.50,325.49 183.00,322.90 185.50,320.22 188.00,317.46 190.50,314.63 193.00,311.73 195.50,308.78 198.00,305.76 200.50,302.70 203.00,299.60 205.50,296.46 208.00,293.28 210.50,290.07 213.00,286.84 215.50,283.58 218.00,280.30 220.50,277.00 223.00,273.69 225.50,270.36 228.00,267.02 230.50,263.67 233.00,260.31" fill="none" stroke="#ff00ff" stroke-width="1.1" stroke-linejoin="round" stroke-linecap="round"/>
<polyline points="33.00,358.29 35.50,358.29 38.00,358.29 40.50,358.29 43.00,358.29 45.50,358.29 48.00,358.28 50.50,358.28 53.00,358.28 55.50,358.27 58.00,358.27 60.50,358.26 63.00,358.26 65.50,358.25 68.00,358.24 70.50,358.23 73.00,358.21 75.50,358.20 78.00,358.18 80.50,358.16 83.00,358.13 85.50,358.10 88.00,358.06 90.50,358.02 93.00,357.97 95.50,357.91 98.00,357.84 100.50,357.75 103.00,357.65 105.50,357.54 108.00,357.40 110.50,357.24 113.00,357.05 115.50,356.82 118.00,356.56 120.50,356.26 123.00,355.90 125.50,355.48 128.00,355.00 130.50,354.44 133.00,353.80 135.50,353.06 138.00,352.22 140.50,351.25 143.00,350.17 145.50,348.94 148.00,347.57 150.50,346.06 153.00,344.38 155.50,342.54 158.00,340.55 160.50,338.39 163.00,336.08 165.50,333.62 168.00,331.02 170.50,328.28 173.00,325.42 175.50,322.44 178.00,319.36 180.50,316.18 183.00,312.92 185.50,309.59 188.00,306.19 190.50,302.74 193.00,299.23 195.50,295.69 198.00,292.10 200.50,288.48 203.00,284.84 205.50,281.17 208.00,277.48 210.50,273.78 213.00,270.06 215.50,266.32 218.00,262.58 220.50,258.83 223.00,255.07 225.50,251.30 228.00,247.53 230.50,243.75 233.00,239.97" fill="none" stroke="#008000" stroke-width="1.1" stroke-linejoin="round" stroke-linecap="round"/>
<polyline points="33.00,358.30 35.50,358.29 38.00,358.29 40.50,358.29 43.00,358.29 45.50,358.29 48.00,358.29 50.50,358.29 53.00,358.28 55.50,358.28 58.00,358.27 60.50,358.27 63.00,358.26 65.50,358.26 68.00,358.25 70.50,358.24 73.00,358.23 75.50,358.21 78.00,358.20 80.50,358.18 83.00,358.15 85.50,358.12 88.00,358.09 90.50,358.05 93.00,358.00 95.50,357.94 98.00,357.88 100.50,357.80 103.00,357.70 105.50,357.58 108.00,357.45 110.50,357.29 113.00,357.10 115.50,356.87 118.00,356.61 120.50,356.29 123.00,355.92 125.50,355.49 128.00,354.99 130.50,354.40 133.00,353.72 135.50,352.94 138.00,352.04 140.50,351.01 143.00,349.84 145.50,348.52 148.00,347.05 150.50,345.41 153.00,343.61 155.50,341.63 158.00,339.49 160.50,337.18 163.00,334.71 165.50,332.08 168.00,329.32 170.50,326.42 173.00,323.40 175.50,320.27 178.00,317.04 180.50,313.73 183.00,310.34 185.50,306.88 188.00,303.36 190.50,299.80 193.00,296.19 195.50,292.54 198.00,288.86 200.50,285.16 203.00,281.43 205.50,277.68 208.00,273.92 210.50,270.14 213.00,266.35 215.50,262.55 218.00,258.74 220.50,254.93 223.00,251.11 225.50,247.28 228.00,243.45 230.50,239.62 233.00,235.78" fill="none" stroke="#000080" stroke-width="1.1" stroke-linejoin="round" stroke-linecap="round"/>
<polyline points="33.00,358.30 35.50,358.30 38.00,358.29 40.50,358.29 43.00,358.29 45.50,358.29 48.00,358.29 50.50,358.29 53.00,358.28 55.50,358.28 58.00,358.28 60.50,358.27 63.00,358.27 65.50,358.26 68.00,358.25 70.50,358.24 73.00,358.23 75.50,358.21 78.00,358.20 80.50,358.18 83.00,358.15 85.50,358.12 88.00,358.09 90.50,358.05 93.00,358.00 95.50,357.94 98.00,357.87 100.50,357.79 103.00,357.69 105.50,357.57 108.00,357.43 110.50,357.26 113.00,357.06 115.50,356.83 118.00,356.55 120.50,356.22 123.00,355.83 125.50,355.37 128.00,354.84 130.50,354.22 133.00,353.49 135.50,352.66 138.00,351.70 140.50,350.60 143.00,349.36 145.50,347.96 148.00,346.39 150.50,344.64 153.00,342.72 155.50,340.63 158.00,338.35 160.50,335.91 163.00,333.30 165.50,330.53 168.00,327.62 170.50,324.58 173.00,321.41 175.50,318.14 178.00,314.77 180.50,311.32 183.00,307.79 185.50,304.19 188.00,300.54 190.50,296.84 193.00,293.10 195.50,289.33 198.00,285.52 200.50,281.69 203.00,277.84 205.50,273.97 208.00,270.08 210.50,266.18 213.00,262.27 215.50,258.36 218.00,254.43 220.50,250.50 223.00,246.56 225.50,242.62 228.00,238.67 230.50,234.72 233.00,230.77" fill="none" stroke="#8000ff" stroke-width="1.1" stroke-linejoin="round" stroke-linecap="round"/>
<polyline points="33.00,347.30 37.20,346.30 38.30,345.60 39.00,344.00 41.10,332.60 43.51,320.22 43.58,318.66 43.69,317.12 43.83,315.59 44.00,314.07 44.20,312.56 44.44,311.06 44.71,309.58 45.01,308.11 45.35,306.65 45.71,305.21 46.10,303.77 46.53,302.35 46.98,300.95 47.46,299.55 47.97,298.17 48.51,296.80 49.07,295.45 49.67,294.11 50.28,292.78 50.93,291.47 51.59,290.17 52.29,288.89 53.01,287.61 53.75,286.36 54.51,285.12 55.30,283.89 56.11,282.67 56.94,281.48 57.79,280.29 58.67,279.12 59.56,277.97 60.47,276.83 61.41,275.71 62.36,274.60 63.33,273.50 64.32,272.43 65.32,271.36 66.34,270.31 67.38,269.28 68.44,268.25 69.51,267.25 70.59,266.26 71.69,265.28 72.81,264.31 73.94,263.36 75.08,262.43 76.23,261.50 77.40,260.59 78.58,259.70 79.76,258.82 80.96,257.95 82.17,257.09 83.40,256.25 84.62,255.42 85.86,254.61 87.11,253.80 88.37,253.02 89.63,252.24 90.90,251.47 92.18,250.72 93.47,249.98 94.76,249.25 96.06,248.54 97.37,247.83 98.68,247.14 100.00,246.45 101.32,245.78 102.65,245.12 103.99,244.47 105.33,243.83 106.67,243.20 108.02,242.58 109.37,241.97 110.73,241.37 112.09,240.78 113.45,240.19 114.82,239.62 116.19,239.06 117.56,238.50 118.94,237.95 120.32,237.41 121.70,236.88 123.08,236.36 124.47,235.85 125.86,235.35 127.25,234.85 128.64,234.37 130.04,233.89 131.44,233.42 132.84,232.96 134.24,232.50 135.64,232.06 137.05,231.62 138.46,231.19 139.87,230.77 141.28,230.36 142.70,229.95 144.12,229.56 145.53,229.17 146.96,228.79 148.38,228.41 149.80,228.04 151.23,227.68 152.66,227.33 154.08,226.98 155.52,226.64 156.95,226.31 158.38,225.98 159.82,225.66 161.25,225.34 162.69,225.03 164.13,224.72 165.57,224.42 167.01,224.12 168.46,223.83 169.90,223.54 171.35,223.26 172.79,222.98 174.24,222.71 175.69,222.43 177.14,222.17 178.59,221.90 180.04,221.64 181.49,221.38 182.94,221.13 184.40,220.88 185.85,220.63 187.31,220.38 188.76,220.14 190.22,219.89 191.68,219.65 193.13,219.41 194.59,219.18 196.05,218.94 197.51,218.71 198.97,218.47 200.42,218.24 201.88,218.00 203.34,217.77 204.80,217.54 206.26,217.31 207.72,217.08 209.18,216.84 210.64,216.61 212.10,216.38 213.56,216.14 215.02,215.91 216.48,215.67 217.94,215.43 219.40,215.19 220.86,214.95 222.32,214.70 223.77,214.46 225.23,214.21 226.69,213.96 228.14,213.71 229.60,213.45 231.06,213.19 232.51,212.93" fill="none" stroke="#000000" stroke-width="1.2" stroke-linejoin="round" stroke-linecap="round"/>
<polyline points="33.00,347.30 37.20,346.21 38.30,345.48 39.00,343.87 41.10,332.35 43.51,319.84 43.58,318.29 43.69,316.74 43.83,315.20 44.00,313.67 44.20,312.15 44.44,310.64 44.71,309.15 45.01,307.66 45.35,306.19 45.71,304.73 46.10,303.29 46.53,301.85 46.98,300.43 47.46,299.02 47.97,297.62 48.51,296.24 49.07,294.86 49.67,293.50 50.28,292.15 50.93,290.82 51.59,289.50 52.29,288.19 53.01,286.89 53.75,285.61 54.51,284.34 55.30,283.10 56.11,281.88 56.94,280.67 57.79,279.48 58.67,278.31 59.56,277.15 60.47,276.00 61.41,274.87 62.36,273.76 63.33,272.65 64.32,271.57 65.32,270.50 66.34,269.44 67.38,268.40 68.44,267.37 69.51,266.35 70.59,265.35 71.69,264.37 72.81,263.40 73.94,262.44 75.08,261.49 76.23,260.57 77.40,259.65 78.58,258.75 79.76,257.86 80.96,256.98 82.17,256.12 83.40,255.27 84.62,254.43 85.86,253.61 87.11,252.80 88.37,252.01 89.63,251.22 90.90,250.45 92.18,249.69 93.47,248.94 94.76,248.20 96.06,247.48 97.37,246.77 98.68,246.06 100.00,245.37 101.32,244.69 102.65,244.03 103.99,243.37 105.33,242.72 106.67,242.08 108.02,241.45 109.37,240.84 110.73,240.23 112.09,239.63 113.45,239.04 114.82,238.46 116.19,237.88 117.56,237.32 118.94,236.77 120.32,236.22 121.70,235.68 123.08,235.15 124.47,234.63 125.86,234.12 127.25,233.62 128.64,233.12 130.04,232.64 131.44,232.16 132.84,231.69 134.24,231.23 135.64,230.78 137.05,230.33 138.46,229.90 139.87,229.47 141.28,229.06 142.70,228.66 144.12,228.27 145.53,227.89 146.96,227.52 148.38,227.15 149.80,226.79 151.23,226.44 152.66,226.09 154.08,225.75 155.52,225.42 156.95,225.09 158.38,224.77 159.82,224.46 161.25,224.15 162.69,223.84 164.13,223.55 165.57,223.25 167.01,222.96 168.46,222.68 169.90,222.40 171.35,222.12 172.79,221.85 174.24,221.59 175.69,221.32 177.14,221.06 178.59,220.81 180.04,220.55 181.49,220.30 182.94,220.06 184.40,219.81 185.85,219.57 187.31,219.33 188.76,219.10 190.22,218.86 191.68,218.63 193.13,218.40 194.59,218.17 196.05,217.94 197.51,217.71 198.97,217.48 200.42,217.26 201.88,217.03 203.34,216.81 204.80,216.58 206.26,216.36 207.72,216.13 209.18,215.91 210.64,215.68 212.10,215.46 213.56,215.23 215.02,215.00 216.48,214.77 217.94,214.54 219.40,214.31 220.86,214.08 222.32,213.84 223.77,213.60 225.23,213.36 226.69,213.12 228.14,212.87 229.60,212.63 231.06,212.38 232.51,212.12" fill="none" stroke="#ff0000" stroke-width="1.2" stroke-linejoin="round" stroke-linecap="round"/>
<polyline points="33.00,347.30 37.20,346.10 38.30,345.34 39.00,343.71 41.10,332.07 43.51,319.42 43.58,317.85 43.69,316.30 43.83,314.75 44.00,313.21 44.20,311.68 44.44,310.16 44.71,308.65 45.01,307.14 45.35,305.66 45.71,304.19 46.10,302.72 46.53,301.27 46.98,299.83 47.46,298.41 47.97,296.99 48.51,295.58 49.07,294.19 49.67,292.80 50.28,291.43 50.93,290.07 51.59,288.72 52.29,287.39 53.01,286.07 53.75,284.75 54.51,283.46 55.30,282.19 56.11,280.96 56.94,279.75 57.79,278.55 58.67,277.37 59.56,276.20 60.47,275.05 61.41,273.91 62.36,272.79 63.33,271.68 64.32,270.58 65.32,269.50 66.34,268.43 67.38,267.38 68.44,266.34 69.51,265.32 70.59,264.31 71.69,263.32 72.81,262.34 73.94,261.38 75.08,260.42 76.23,259.49 77.40,258.56 78.58,257.65 79.76,256.75 80.96,255.87 82.17,255.00 83.40,254.14 84.62,253.30 85.86,252.47 87.11,251.65 88.37,250.84 89.63,250.05 90.90,249.27 92.18,248.50 93.47,247.74 94.76,247.00 96.06,246.26 97.37,245.54 98.68,244.83 100.00,244.13 101.32,243.44 102.65,242.76 103.99,242.10 105.33,241.44 106.67,240.79 108.02,240.16 109.37,239.53 110.73,238.91 112.09,238.31 113.45,237.71 114.82,237.12 116.19,236.54 117.56,235.96 118.94,235.40 120.32,234.85 121.70,234.30 123.08,233.76 124.47,233.23 125.86,232.71 127.25,232.20 128.64,231.70 130.04,231.20 131.44,230.71 132.84,230.24 134.24,229.76 135.64,229.30 137.05,228.85 138.46,228.40 139.87,227.97 141.28,227.57 142.70,227.18 144.12,226.80 145.53,226.43 146.96,226.06 148.38,225.70 149.80,225.35 151.23,225.01 152.66,224.67 154.08,224.34 155.52,224.02 156.95,223.70 158.38,223.39 159.82,223.08 161.25,222.78 162.69,222.48 164.13,222.19 165.57,221.91 167.01,221.63 168.46,221.35 169.90,221.08 171.35,220.82 172.79,220.55 174.24,220.30 175.69,220.04 177.14,219.79 178.59,219.54 180.04,219.30 181.49,219.06 182.94,218.82 184.40,218.59 185.85,218.35 187.31,218.12 188.76,217.90 190.22,217.67 191.68,217.45 193.13,217.22 194.59,217.00 196.05,216.78 197.51,216.56 198.97,216.35 200.42,216.13 201.88,215.91 203.34,215.70 204.80,215.48 206.26,215.27 207.72,215.05 209.18,214.83 210.64,214.62 212.10,214.40 213.56,214.18 215.02,213.96 216.48,213.74 217.94,213.52 219.40,213.30 220.86,213.07 222.32,212.85 223.77,212.62 225.23,212.39 226.69,212.15 228.14,211.92 229.60,211.68 231.06,211.43 232.51,211.19" fill="none" stroke="#0000ff" stroke-width="1.2" stroke-linejoin="round" stroke-linecap="round"/>
<polyline points="33.00,347.30 37.20,346.06 38.30,345.30 39.00,343.66 41.10,331.98 43.51,319.27 43.58,317.71 43.69,316.15 43.83,314.60 44.00,313.06 44.20,311.52 44.44,309.99 44.71,308.48 45.01,306.96 45.35,305.48 45.71,304.00 46.10,302.53 46.53,301.08 46.98,299.63 47.46,298.20 47.97,296.77 48.51,295.36 49.07,293.96 49.67,292.56 50.28,291.19 50.93,289.82 51.59,288.46 52.29,287.12 53.01,285.78 53.75,284.46 54.51,283.16 55.30,281.88 56.11,280.65 56.94,279.44 57.79,278.24 58.67,277.05 59.56,275.88 60.47,274.72 61.41,273.58 62.36,272.46 63.33,271.34 64.32,270.25 65.32,269.16 66.34,268.09 67.38,267.04 68.44,266.00 69.51,264.97 70.59,263.96 71.69,262.96 72.81,261.98 73.94,261.01 75.08,260.06 76.23,259.12 77.40,258.19 78.58,257.28 79.76,256.38 80.96,255.49 82.17,254.62 83.40,253.76 84.62,252.91 85.86,252.08 87.11,251.26 88.37,250.45 89.63,249.65 90.90,248.87 92.18,248.09 93.47,247.34 94.76,246.59 96.06,245.85 97.37,245.13 98.68,244.41 100.00,243.71 101.32,243.02 102.65,242.34 103.99,241.67 105.33,241.01 106.67,240.36 108.02,239.72 109.37,239.09 110.73,238.47 112.09,237.86 113.45,237.26 114.82,236.66 116.19,236.08 117.56,235.50 118.94,234.94 120.32,234.38 121.70,233.83 123.08,233.29 124.47,232.76 125.86,232.23 127.25,231.72 128.64,231.21 130.04,230.71 131.44,230.22 132.84,229.74 134.24,229.27 135.64,228.80 137.05,228.34 138.46,227.90 139.87,227.46 141.28,227.06 142.70,226.67 144.12,226.30 145.53,225.93 146.96,225.56 148.38,225.21 149.80,224.86 151.23,224.52 152.66,224.19 154.08,223.86 155.52,223.54 156.95,223.22 158.38,222.91 159.82,222.61 161.25,222.31 162.69,222.02 164.13,221.73 165.57,221.45 167.01,221.17 168.46,220.90 169.90,220.63 171.35,220.37 172.79,220.11 174.24,219.86 175.69,219.61 177.14,219.36 178.59,219.12 180.04,218.87 181.49,218.64 182.94,218.40 184.40,218.17 185.85,217.94 187.31,217.71 188.76,217.49 190.22,217.27 191.68,217.05 193.13,216.83 194.59,216.61 196.05,216.39 197.51,216.18 198.97,215.96 200.42,215.75 201.88,215.53 203.34,215.32 204.80,215.11 206.26,214.90 207.72,214.68 209.18,214.47 210.64,214.26 212.10,214.04 213.56,213.83 215.02,213.61 216.48,213.39 217.94,213.17 219.40,212.95 220.86,212.73 222.32,212.51 223.77,212.28 225.23,212.05 226.69,211.82 228.14,211.59 229.60,211.35 231.06,211.11 232.51,210.87" fill="none" stroke="#ff00ff" stroke-width="1.2" stroke-linejoin="round" stroke-linecap="round"/>
<polyline points="33.00,347.30 37.20,345.94 38.30,345.14 39.00,343.48 41.10,331.66 43.51,318.79 43.58,317.22 43.69,315.65 43.83,314.09 44.00,312.54 44.20,310.99 44.44,309.45 44.71,307.91 45.01,306.38 45.35,304.88 45.71,303.38 46.10,301.90 46.53,300.42 46.98,298.96 47.46,297.50 47.97,296.06 48.51,294.62 49.07,293.19 49.67,291.77 50.28,290.37 50.93,288.97 51.59,287.58 52.29,286.21 53.01,284.85 53.75,283.49 54.51,282.15 55.30,280.85 56.11,279.61 56.94,278.39 57.79,277.18 58.67,275.99 59.56,274.81 60.47,273.65 61.41,272.50 62.36,271.36 63.33,270.24 64.32,269.13 65.32,268.04 66.34,266.96 67.38,265.89 68.44,264.84 69.51,263.80 70.59,262.78 71.69,261.78 72.81,260.79 73.94,259.81 75.08,258.85 76.23,257.90 77.40,256.96 78.58,256.04 79.76,255.13 80.96,254.23 82.17,253.35 83.40,252.48 84.62,251.63 85.86,250.78 87.11,249.95 88.37,249.13 89.63,248.33 90.90,247.53 92.18,246.75 93.47,245.98 94.76,245.22 96.06,244.47 97.37,243.74 98.68,243.01 100.00,242.30 101.32,241.60 102.65,240.91 103.99,240.23 105.33,239.56 106.67,238.90 108.02,238.25 109.37,237.61 110.73,236.98 112.09,236.36 113.45,235.75 114.82,235.15 116.19,234.55 117.56,233.97 118.94,233.39 120.32,232.82 121.70,232.26 123.08,231.71 124.47,231.17 125.86,230.64 127.25,230.11 128.64,229.59 130.04,229.09 131.44,228.59 132.84,228.09 134.24,227.61 135.64,227.13 137.05,226.67 138.46,226.21 139.87,225.76 141.28,225.37 142.70,224.99 144.12,224.63 145.53,224.27 146.96,223.91 148.38,223.57 149.80,223.23 151.23,222.90 152.66,222.58 154.08,222.26 155.52,221.95 156.95,221.64 158.38,221.34 159.82,221.05 161.25,220.76 162.69,220.48 164.13,220.20 165.57,219.93 167.01,219.67 168.46,219.40 169.90,219.15 171.35,218.89 172.79,218.64 174.24,218.40 175.69,218.16 177.14,217.92 178.59,217.69 180.04,217.46 181.49,217.23 182.94,217.00 184.40,216.78 185.85,216.56 187.31,216.35 188.76,216.13 190.22,215.92 191.68,215.71 193.13,215.50 194.59,215.29 196.05,215.08 197.51,214.88 198.97,214.67 200.42,214.47 201.88,214.27 203.34,214.06 204.80,213.86 206.26,213.66 207.72,213.46 209.18,213.25 210.64,213.05 212.10,212.85 213.56,212.64 215.02,212.44 216.48,212.23 217.94,212.02 219.40,211.81 220.86,211.60 222.32,211.38 223.77,211.17 225.23,210.95 226.69,210.73 228.14,210.51 229.60,210.28 231.06,210.05 232.51,209.82" fill="none" stroke="#008000" stroke-width="1.2" stroke-linejoin="round" stroke-linecap="round"/>
<polyline points="33.00,347.30 37.20,345.92 38.30,345.12 39.00,343.45 41.10,331.60 43.51,318.70 43.58,317.13 43.69,315.57 43.83,314.01 44.00,312.45 44.20,310.90 44.44,309.35 44.71,307.81 45.01,306.28 45.35,304.77 45.71,303.28 46.10,301.79 46.53,300.31 46.98,298.84 47.46,297.38 47.97,295.93 48.51,294.49 49.07,293.06 49.67,291.64 50.28,290.23 50.93,288.83 51.59,287.44 52.29,286.05 53.01,284.69 53.75,283.33 54.51,281.98 55.30,280.68 56.11,279.44 56.94,278.21 57.79,277.00 58.67,275.81 59.56,274.63 60.47,273.46 61.41,272.31 62.36,271.17 63.33,270.05 64.32,268.94 65.32,267.84 66.34,266.76 67.38,265.70 68.44,264.64 69.51,263.60 70.59,262.58 71.69,261.58 72.81,260.58 73.94,259.61 75.08,258.64 76.23,257.69 77.40,256.75 78.58,255.83 79.76,254.92 80.96,254.02 82.17,253.14 83.40,252.26 84.62,251.41 85.86,250.56 87.11,249.73 88.37,248.91 89.63,248.10 90.90,247.30 92.18,246.52 93.47,245.75 94.76,244.99 96.06,244.24 97.37,243.50 98.68,242.78 100.00,242.06 101.32,241.36 102.65,240.67 103.99,239.99 105.33,239.32 106.67,238.65 108.02,238.00 109.37,237.36 110.73,236.73 112.09,236.11 113.45,235.49 114.82,234.89 116.19,234.29 117.56,233.71 118.94,233.13 120.32,232.56 121.70,232.00 123.08,231.44 124.47,230.90 125.86,230.36 127.25,229.84 128.64,229.32 130.04,228.81 131.44,228.31 132.84,227.81 134.24,227.33 135.64,226.85 137.05,226.38 138.46,225.92 139.87,225.47 141.28,225.08 142.70,224.71 144.12,224.34 145.53,223.98 146.96,223.63 148.38,223.29 149.80,222.95 151.23,222.62 152.66,222.30 154.08,221.99 155.52,221.68 156.95,221.37 158.38,221.08 159.82,220.78 161.25,220.50 162.69,220.22 164.13,219.94 165.57,219.67 167.01,219.41 168.46,219.15 169.90,218.89 171.35,218.64 172.79,218.39 174.24,218.15 175.69,217.91 177.14,217.68 178.59,217.44 180.04,217.21 181.49,216.99 182.94,216.77 184.40,216.55 185.85,216.33 187.31,216.11 188.76,215.90 190.22,215.69 191.68,215.48 193.13,215.27 194.59,215.07 196.05,214.86 197.51,214.66 198.97,214.46 200.42,214.25 201.88,214.05 203.34,213.85 204.80,213.65 206.26,213.45 207.72,213.25 209.18,213.05 210.64,212.84 212.10,212.64 213.56,212.44 215.02,212.23 216.48,212.03 217.94,211.82 219.40,211.61 220.86,211.40 222.32,211.19 223.77,210.98 225.23,210.76 226.69,210.54 228.14,210.32 229.60,210.10 231.06,209.87 232.51,209.64" fill="none" stroke="#000080" stroke-width="1.2" stroke-linejoin="round" stroke-linecap="round"/>
<polyline points="33.00,347.30 37.20,345.88 38.30,345.07 39.00,343.40 41.10,331.51 43.51,318.56 43.58,316.99 43.69,315.42 43.83,313.86 44.00,312.30 44.20,310.74 44.44,309.19 44.71,307.65 45.01,306.11 45.35,304.60 45.71,303.10 46.10,301.61 46.53,300.12 46.98,298.65 47.46,297.18 47.97,295.73 48.51,294.28 49.07,292.84 49.67,291.41 50.28,289.99 50.93,288.58 51.59,287.18 52.29,285.79 53.01,284.41 53.75,283.05 54.51,281.69 55.30,280.38 56.11,279.14 56.94,277.91 57.79,276.70 58.67,275.50 59.56,274.32 60.47,273.15 61.41,271.99 62.36,270.85 63.33,269.73 64.32,268.62 65.32,267.52 66.34,266.43 67.38,265.36 68.44,264.31 69.51,263.26 70.59,262.24 71.69,261.23 72.81,260.24 73.94,259.26 75.08,258.29 76.23,257.34 77.40,256.40 78.58,255.47 79.76,254.56 80.96,253.66 82.17,252.77 83.40,251.89 84.62,251.03 85.86,250.18 87.11,249.35 88.37,248.53 89.63,247.71 90.90,246.92 92.18,246.13 93.47,245.36 94.76,244.59 96.06,243.84 97.37,243.10 98.68,242.37 100.00,241.65 101.32,240.95 102.65,240.25 103.99,239.57 105.33,238.90 106.67,238.23 108.02,237.58 109.37,236.93 110.73,236.30 112.09,235.67 113.45,235.06 114.82,234.45 116.19,233.85 117.56,233.26 118.94,232.68 120.32,232.11 121.70,231.54 123.08,230.99 124.47,230.44 125.86,229.90 127.25,229.37 128.64,228.85 130.04,228.34 131.44,227.83 132.84,227.33 134.24,226.85 135.64,226.37 137.05,225.89 138.46,225.43 139.87,224.97 141.28,224.59 142.70,224.22 144.12,223.86 145.53,223.50 146.96,223.15 148.38,222.81 149.80,222.48 151.23,222.15 152.66,221.83 154.08,221.52 155.52,221.21 156.95,220.91 158.38,220.62 159.82,220.33 161.25,220.05 162.69,219.77 164.13,219.50 165.57,219.23 167.01,218.97 168.46,218.71 169.90,218.46 171.35,218.21 172.79,217.97 174.24,217.73 175.69,217.49 177.14,217.26 178.59,217.03 180.04,216.80 181.49,216.58 182.94,216.36 184.40,216.14 185.85,215.93 187.31,215.72 188.76,215.51 190.22,215.30 191.68,215.09 193.13,214.89 194.59,214.68 196.05,214.48 197.51,214.28 198.97,214.08 200.42,213.88 201.88,213.68 203.34,213.49 204.80,213.29 206.26,213.09 207.72,212.89 209.18,212.69 210.64,212.50 212.10,212.30 213.56,212.10 215.02,211.89 216.48,211.69 217.94,211.49 219.40,211.28 220.86,211.07 222.32,210.87 223.77,210.65 225.23,210.44 226.69,210.22 228.14,210.01 229.60,209.78 231.06,209.56 232.51,209.33" fill="none" stroke="#8000ff" stroke-width="1.2" stroke-linejoin="round" stroke-linecap="round"/>
</g>
<path d="M32.2,358.3 L32.2,203.5 L242.3,203.5" fill="none" stroke="#000" stroke-width="1.4"/>
<path d="M32.2,358.3 L242.3,358.3" fill="none" stroke="#000" stroke-width="1.4"/>
<path d="M242.3,203.5 L242.3,358.3" fill="none" stroke="#000" stroke-width="1.4"/>
<line x1="33.00" y1="358.30" x2="33.00" y2="361.50" stroke="#000" stroke-width="1.2"/>
<line x1="33.00" y1="203.50" x2="33.00" y2="206.10" stroke="#000" stroke-width="1.2"/>
<line x1="53.00" y1="358.30" x2="53.00" y2="361.50" stroke="#000" stroke-width="1.2"/>
<line x1="53.00" y1="203.50" x2="53.00" y2="206.10" stroke="#000" stroke-width="1.2"/>
<line x1="73.00" y1="358.30" x2="73.00" y2="361.50" stroke="#000" stroke-width="1.2"/>
<line x1="73.00" y1="203.50" x2="73.00" y2="206.10" stroke="#000" stroke-width="1.2"/>
<line x1="93.00" y1="358.30" x2="93.00" y2="361.50" stroke="#000" stroke-width="1.2"/>
<line x1="93.00" y1="203.50" x2="93.00" y2="206.10" stroke="#000" stroke-width="1.2"/>
<line x1="113.00" y1="358.30" x2="113.00" y2="361.50" stroke="#000" stroke-width="1.2"/>
<line x1="113.00" y1="203.50" x2="113.00" y2="206.10" stroke="#000" stroke-width="1.2"/>
<line x1="133.00" y1="358.30" x2="133.00" y2="361.50" stroke="#000" stroke-width="1.2"/>
<line x1="133.00" y1="203.50" x2="133.00" y2="206.10" stroke="#000" stroke-width="1.2"/>
<line x1="153.00" y1="358.30" x2="153.00" y2="361.50" stroke="#000" stroke-width="1.2"/>
<line x1="153.00" y1="203.50" x2="153.00" y2="206.10" stroke="#000" stroke-width="1.2"/>
<line x1="173.00" y1="358.30" x2="173.00" y2="361.50" stroke="#000" stroke-width="1.2"/>
<line x1="173.00" y1="203.50" x2="173.00" y2="206.10" stroke="#000" stroke-width="1.2"/>
<line x1="193.00" y1="358.30" x2="193.00" y2="361.50" stroke="#000" stroke-width="1.2"/>
<line x1="193.00" y1="203.50" x2="193.00" y2="206.10" stroke="#000" stroke-width="1.2"/>
<line x1="213.00" y1="358.30" x2="213.00" y2="361.50" stroke="#000" stroke-width="1.2"/>
<line x1="213.00" y1="203.50" x2="213.00" y2="206.10" stroke="#000" stroke-width="1.2"/>
<line x1="233.00" y1="358.30" x2="233.00" y2="361.50" stroke="#000" stroke-width="1.2"/>
<line x1="233.00" y1="203.50" x2="233.00" y2="206.10" stroke="#000" stroke-width="1.2"/>
<line x1="43.00" y1="358.30" x2="43.00" y2="360.30" stroke="#000" stroke-width="1.2"/>
<line x1="43.00" y1="203.50" x2="43.00" y2="205.10" stroke="#000" stroke-width="1.2"/>
<line x1="63.00" y1="358.30" x2="63.00" y2="360.30" stroke="#000" stroke-width="1.2"/>
<line x1="63.00" y1="203.50" x2="63.00" y2="205.10" stroke="#000" stroke-width="1.2"/>
<line x1="83.00" y1="358.30" x2="83.00" y2="360.30" stroke="#000" stroke-width="1.2"/>
<line x1="83.00" y1="203.50" x2="83.00" y2="205.10" stroke="#000" stroke-width="1.2"/>
<line x1="103.00" y1="358.30" x2="103.00" y2="360.30" stroke="#000" stroke-width="1.2"/>
<line x1="103.00" y1="203.50" x2="103.00" y2="205.10" stroke="#000" stroke-width="1.2"/>
<line x1="123.00" y1="358.30" x2="123.00" y2="360.30" stroke="#000" stroke-width="1.2"/>
<line x1="123.00" y1="203.50" x2="123.00" y2="205.10" stroke="#000" stroke-width="1.2"/>
<line x1="143.00" y1="358.30" x2="143.00" y2="360.30" stroke="#000" stroke-width="1.2"/>
<line x1="143.00" y1="203.50" x2="143.00" y2="205.10" stroke="#000" stroke-width="1.2"/>
<line x1="163.00" y1="358.30" x2="163.00" y2="360.30" stroke="#000" stroke-width="1.2"/>
<line x1="163.00" y1="203.50" x2="163.00" y2="205.10" stroke="#000" stroke-width="1.2"/>
<line x1="183.00" y1="358.30" x2="183.00" y2="360.30" stroke="#000" stroke-width="1.2"/>
<line x1="183.00" y1="203.50" x2="183.00" y2="205.10" stroke="#000" stroke-width="1.2"/>
<line x1="203.00" y1="358.30" x2="203.00" y2="360.30" stroke="#000" stroke-width="1.2"/>
<line x1="203.00" y1="203.50" x2="203.00" y2="205.10" stroke="#000" stroke-width="1.2"/>
<line x1="223.00" y1="358.30" x2="223.00" y2="360.30" stroke="#000" stroke-width="1.2"/>
<line x1="223.00" y1="203.50" x2="223.00" y2="205.10" stroke="#000" stroke-width="1.2"/>
<text x="33.00" y="369.60" font-size="6.7" font-weight="bold" text-anchor="middle" fill="#000" stroke="#000" stroke-width="0.08">0.0</text>
<text x="53.00" y="369.60" font-size="6.7" font-weight="bold" text-anchor="middle" fill="#000" stroke="#000" stroke-width="0.08">0.2</text>
<text x="73.00" y="369.60" font-size="6.7" font-weight="bold" text-anchor="middle" fill="#000" stroke="#000" stroke-width="0.08">0.4</text>
<text x="93.00" y="369.60" font-size="6.7" font-weight="bold" text-anchor="middle" fill="#000" stroke="#000" stroke-width="0.08">0.6</text>
<text x="113.00" y="369.60" font-size="6.7" font-weight="bold" text-anchor="middle" fill="#000" stroke="#000" stroke-width="0.08">0.8</text>
<text x="133.00" y="369.60" font-size="6.7" font-weight="bold" text-anchor="middle" fill="#000" stroke="#000" stroke-width="0.08">1.0</text>
<text x="153.00" y="369.60" font-size="6.7" font-weight="bold" text-anchor="middle" fill="#000" stroke="#000" stroke-width="0.08">1.2</text>
<text x="173.00" y="369.60" font-size="6.7" font-weight="bold" text-anchor="middle" fill="#000" stroke="#000" stroke-width="0.08">1.4</text>
<text x="193.00" y="369.60" font-size="6.7" font-weight="bold" text-anchor="middle" fill="#000" stroke="#000" stroke-width="0.08">1.6</text>
<text x="213.00" y="369.60" font-size="6.7" font-weight="bold" text-anchor="middle" fill="#000" stroke="#000" stroke-width="0.08">1.8</text>
<text x="233.00" y="369.60" font-size="6.7" font-weight="bold" text-anchor="middle" fill="#000" stroke="#000" stroke-width="0.08">2.0</text>
<line x1="29.20" y1="211.70" x2="32.20" y2="211.70" stroke="#000" stroke-width="1.2"/>
<line x1="29.20" y1="225.26" x2="32.20" y2="225.26" stroke="#000" stroke-width="1.2"/>
<line x1="29.20" y1="238.82" x2="32.20" y2="238.82" stroke="#000" stroke-width="1.2"/>
<line x1="29.20" y1="252.38" x2="32.20" y2="252.38" stroke="#000" stroke-width="1.2"/>
<line x1="29.20" y1="265.94" x2="32.20" y2="265.94" stroke="#000" stroke-width="1.2"/>
<line x1="29.20" y1="279.50" x2="32.20" y2="279.50" stroke="#000" stroke-width="1.2"/>
<line x1="29.20" y1="293.06" x2="32.20" y2="293.06" stroke="#000" stroke-width="1.2"/>
<line x1="29.20" y1="306.62" x2="32.20" y2="306.62" stroke="#000" stroke-width="1.2"/>
<line x1="29.20" y1="320.18" x2="32.20" y2="320.18" stroke="#000" stroke-width="1.2"/>
<line x1="29.20" y1="333.74" x2="32.20" y2="333.74" stroke="#000" stroke-width="1.2"/>
<line x1="29.20" y1="347.30" x2="32.20" y2="347.30" stroke="#000" stroke-width="1.2"/>
<line x1="30.60" y1="356.78" x2="32.20" y2="356.78" stroke="#000" stroke-width="1.2"/>
<line x1="30.60" y1="354.39" x2="32.20" y2="354.39" stroke="#000" stroke-width="1.2"/>
<line x1="30.60" y1="352.70" x2="32.20" y2="352.70" stroke="#000" stroke-width="1.2"/>
<line x1="30.60" y1="351.38" x2="32.20" y2="351.38" stroke="#000" stroke-width="1.2"/>
<line x1="30.60" y1="350.31" x2="32.20" y2="350.31" stroke="#000" stroke-width="1.2"/>
<line x1="30.60" y1="349.40" x2="32.20" y2="349.40" stroke="#000" stroke-width="1.2"/>
<line x1="30.60" y1="348.61" x2="32.20" y2="348.61" stroke="#000" stroke-width="1.2"/>
<line x1="30.60" y1="347.92" x2="32.20" y2="347.92" stroke="#000" stroke-width="1.2"/>
<line x1="30.60" y1="343.22" x2="32.20" y2="343.22" stroke="#000" stroke-width="1.2"/>
<line x1="30.60" y1="340.83" x2="32.20" y2="340.83" stroke="#000" stroke-width="1.2"/>
<line x1="30.60" y1="339.14" x2="32.20" y2="339.14" stroke="#000" stroke-width="1.2"/>
<line x1="30.60" y1="337.82" x2="32.20" y2="337.82" stroke="#000" stroke-width="1.2"/>
<line x1="30.60" y1="336.75" x2="32.20" y2="336.75" stroke="#000" stroke-width="1.2"/>
<line x1="30.60" y1="335.84" x2="32.20" y2="335.84" stroke="#000" stroke-width="1.2"/>
<line x1="30.60" y1="335.05" x2="32.20" y2="335.05" stroke="#000" stroke-width="1.2"/>
<line x1="30.60" y1="334.36" x2="32.20" y2="334.36" stroke="#000" stroke-width="1.2"/>
<line x1="30.60" y1="329.66" x2="32.20" y2="329.66" stroke="#000" stroke-width="1.2"/>
<line x1="30.60" y1="327.27" x2="32.20" y2="327.27" stroke="#000" stroke-width="1.2"/>
<line x1="30.60" y1="325.58" x2="32.20" y2="325.58" stroke="#000" stroke-width="1.2"/>
<line x1="30.60" y1="324.26" x2="32.20" y2="324.26" stroke="#000" stroke-width="1.2"/>
<line x1="30.60" y1="323.19" x2="32.20" y2="323.19" stroke="#000" stroke-width="1.2"/>
<line x1="30.60" y1="322.28" x2="32.20" y2="322.28" stroke="#000" stroke-width="1.2"/>
<line x1="30.60" y1="321.49" x2="32.20" y2="321.49" stroke="#000" stroke-width="1.2"/>
<line x1="30.60" y1="320.80" x2="32.20" y2="320.80" stroke="#000" stroke-width="1.2"/>
<line x1="30.60" y1="316.10" x2="32.20" y2="316.10" stroke="#000" stroke-width="1.2"/>
<line x1="30.60" y1="313.71" x2="32.20" y2="313.71" stroke="#000" stroke-width="1.2"/>
<line x1="30.60" y1="312.02" x2="32.20" y2="312.02" stroke="#000" stroke-width="1.2"/>
<line x1="30.60" y1="310.70" x2="32.20" y2="310.70" stroke="#000" stroke-width="1.2"/>
<line x1="30.60" y1="309.63" x2="32.20" y2="309.63" stroke="#000" stroke-width="1.2"/>
<line x1="30.60" y1="308.72" x2="32.20" y2="308.72" stroke="#000" stroke-width="1.2"/>
<line x1="30.60" y1="307.93" x2="32.20" y2="307.93" stroke="#000" stroke-width="1.2"/>
<line x1="30.60" y1="307.24" x2="32.20" y2="307.24" stroke="#000" stroke-width="1.2"/>
<line x1="30.60" y1="302.54" x2="32.20" y2="302.54" stroke="#000" stroke-width="1.2"/>
<line x1="30.60" y1="300.15" x2="32.20" y2="300.15" stroke="#000" stroke-width="1.2"/>
<line x1="30.60" y1="298.46" x2="32.20" y2="298.46" stroke="#000" stroke-width="1.2"/>
<line x1="30.60" y1="297.14" x2="32.20" y2="297.14" stroke="#000" stroke-width="1.2"/>
<line x1="30.60" y1="296.07" x2="32.20" y2="296.07" stroke="#000" stroke-width="1.2"/>
<line x1="30.60" y1="295.16" x2="32.20" y2="295.16" stroke="#000" stroke-width="1.2"/>
<line x1="30.60" y1="294.37" x2="32.20" y2="294.37" stroke="#000" stroke-width="1.2"/>
<line x1="30.60" y1="293.68" x2="32.20" y2="293.68" stroke="#000" stroke-width="1.2"/>
<line x1="30.60" y1="288.98" x2="32.20" y2="288.98" stroke="#000" stroke-width="1.2"/>
<line x1="30.60" y1="286.59" x2="32.20" y2="286.59" stroke="#000" stroke-width="1.2"/>
<line x1="30.60" y1="284.90" x2="32.20" y2="284.90" stroke="#000" stroke-width="1.2"/>
<line x1="30.60" y1="283.58" x2="32.20" y2="283.58" stroke="#000" stroke-width="1.2"/>
<line x1="30.60" y1="282.51" x2="32.20" y2="282.51" stroke="#000" stroke-width="1.2"/>
<line x1="30.60" y1="281.60" x2="32.20" y2="281.60" stroke="#000" stroke-width="1.2"/>
<line x1="30.60" y1="280.81" x2="32.20" y2="280.81" stroke="#000" stroke-width="1.2"/>
<line x1="30.60" y1="280.12" x2="32.20" y2="280.12" stroke="#000" stroke-width="1.2"/>
<line x1="30.60" y1="275.42" x2="32.20" y2="275.42" stroke="#000" stroke-width="1.2"/>
<line x1="30.60" y1="273.03" x2="32.20" y2="273.03" stroke="#000" stroke-width="1.2"/>
<line x1="30.60" y1="271.34" x2="32.20" y2="271.34" stroke="#000" stroke-width="1.2"/>
<line x1="30.60" y1="270.02" x2="32.20" y2="270.02" stroke="#000" stroke-width="1.2"/>
<line x1="30.60" y1="268.95" x2="32.20" y2="268.95" stroke="#000" stroke-width="1.2"/>
<line x1="30.60" y1="268.04" x2="32.20" y2="268.04" stroke="#000" stroke-width="1.2"/>
<line x1="30.60" y1="267.25" x2="32.20" y2="267.25" stroke="#000" stroke-width="1.2"/>
<line x1="30.60" y1="266.56" x2="32.20" y2="266.56" stroke="#000" stroke-width="1.2"/>
<line x1="30.60" y1="261.86" x2="32.20" y2="261.86" stroke="#000" stroke-width="1.2"/>
<line x1="30.60" y1="259.47" x2="32.20" y2="259.47" stroke="#000" stroke-width="1.2"/>
<line x1="30.60" y1="257.78" x2="32.20" y2="257.78" stroke="#000" stroke-width="1.2"/>
<line x1="30.60" y1="256.46" x2="32.20" y2="256.46" stroke="#000" stroke-width="1.2"/>
<line x1="30.60" y1="255.39" x2="32.20" y2="255.39" stroke="#000" stroke-width="1.2"/>
<line x1="30.60" y1="254.48" x2="32.20" y2="254.48" stroke="#000" stroke-width="1.2"/>
<line x1="30.60" y1="253.69" x2="32.20" y2="253.69" stroke="#000" stroke-width="1.2"/>
<line x1="30.60" y1="253.00" x2="32.20" y2="253.00" stroke="#000" stroke-width="1.2"/>
<line x1="30.60" y1="248.30" x2="32.20" y2="248.30" stroke="#000" stroke-width="1.2"/>
<line x1="30.60" y1="245.91" x2="32.20" y2="245.91" stroke="#000" stroke-width="1.2"/>
<line x1="30.60" y1="244.22" x2="32.20" y2="244.22" stroke="#000" stroke-width="1.2"/>
<line x1="30.60" y1="242.90" x2="32.20" y2="242.90" stroke="#000" stroke-width="1.2"/>
<line x1="30.60" y1="241.83" x2="32.20" y2="241.83" stroke="#000" stroke-width="1.2"/>
<line x1="30.60" y1="240.92" x2="32.20" y2="240.92" stroke="#000" stroke-width="1.2"/>
<line x1="30.60" y1="240.13" x2="32.20" y2="240.13" stroke="#000" stroke-width="1.2"/>
<line x1="30.60" y1="239.44" x2="32.20" y2="239.44" stroke="#000" stroke-width="1.2"/>
<line x1="30.60" y1="234.74" x2="32.20" y2="234.74" stroke="#000" stroke-width="1.2"/>
<line x1="30.60" y1="232.35" x2="32.20" y2="232.35" stroke="#000" stroke-width="1.2"/>
<line x1="30.60" y1="230.66" x2="32.20" y2="230.66" stroke="#000" stroke-width="1.2"/>
<line x1="30.60" y1="229.34" x2="32.20" y2="229.34" stroke="#000" stroke-width="1.2"/>
<line x1="30.60" y1="228.27" x2="32.20" y2="228.27" stroke="#000" stroke-width="1.2"/>
<line x1="30.60" y1="227.36" x2="32.20" y2="227.36" stroke="#000" stroke-width="1.2"/>
<line x1="30.60" y1="226.57" x2="32.20" y2="226.57" stroke="#000" stroke-width="1.2"/>
<line x1="30.60" y1="225.88" x2="32.20" y2="225.88" stroke="#000" stroke-width="1.2"/>
<line x1="30.60" y1="221.18" x2="32.20" y2="221.18" stroke="#000" stroke-width="1.2"/>
<line x1="30.60" y1="218.79" x2="32.20" y2="218.79" stroke="#000" stroke-width="1.2"/>
<line x1="30.60" y1="217.10" x2="32.20" y2="217.10" stroke="#000" stroke-width="1.2"/>
<line x1="30.60" y1="215.78" x2="32.20" y2="215.78" stroke="#000" stroke-width="1.2"/>
<line x1="30.60" y1="214.71" x2="32.20" y2="214.71" stroke="#000" stroke-width="1.2"/>
<line x1="30.60" y1="213.80" x2="32.20" y2="213.80" stroke="#000" stroke-width="1.2"/>
<line x1="30.60" y1="213.01" x2="32.20" y2="213.01" stroke="#000" stroke-width="1.2"/>
<line x1="30.60" y1="212.32" x2="32.20" y2="212.32" stroke="#000" stroke-width="1.2"/>
<line x1="30.60" y1="207.62" x2="32.20" y2="207.62" stroke="#000" stroke-width="1.2"/>
<line x1="30.60" y1="205.23" x2="32.20" y2="205.23" stroke="#000" stroke-width="1.2"/>
<line x1="30.60" y1="203.54" x2="32.20" y2="203.54" stroke="#000" stroke-width="1.2"/>
<text x="27.40" y="214.00" font-size="6.7" font-weight="bold" text-anchor="end" fill="#000" stroke="#000" stroke-width="0.08">10<tspan font-size="4.5" dx="-0.2" dy="-2.6">-4</tspan></text>
<text x="27.40" y="227.56" font-size="6.7" font-weight="bold" text-anchor="end" fill="#000" stroke="#000" stroke-width="0.08">10<tspan font-size="4.5" dx="-0.2" dy="-2.6">-5</tspan></text>
<text x="27.40" y="241.12" font-size="6.7" font-weight="bold" text-anchor="end" fill="#000" stroke="#000" stroke-width="0.08">10<tspan font-size="4.5" dx="-0.2" dy="-2.6">-6</tspan></text>
<text x="27.40" y="254.68" font-size="6.7" font-weight="bold" text-anchor="end" fill="#000" stroke="#000" stroke-width="0.08">10<tspan font-size="4.5" dx="-0.2" dy="-2.6">-7</tspan></text>
<text x="27.40" y="268.24" font-size="6.7" font-weight="bold" text-anchor="end" fill="#000" stroke="#000" stroke-width="0.08">10<tspan font-size="4.5" dx="-0.2" dy="-2.6">-8</tspan></text>
<text x="27.40" y="281.80" font-size="6.7" font-weight="bold" text-anchor="end" fill="#000" stroke="#000" stroke-width="0.08">10<tspan font-size="4.5" dx="-0.2" dy="-2.6">-9</tspan></text>
<text x="27.40" y="295.36" font-size="6.7" font-weight="bold" text-anchor="end" fill="#000" stroke="#000" stroke-width="0.08">10<tspan font-size="4.5" dx="-0.2" dy="-2.6">-10</tspan></text>
<text x="27.40" y="308.92" font-size="6.7" font-weight="bold" text-anchor="end" fill="#000" stroke="#000" stroke-width="0.08">10<tspan font-size="4.5" dx="-0.2" dy="-2.6">-11</tspan></text>
<text x="27.40" y="322.48" font-size="6.7" font-weight="bold" text-anchor="end" fill="#000" stroke="#000" stroke-width="0.08">10<tspan font-size="4.5" dx="-0.2" dy="-2.6">-12</tspan></text>
<text x="27.40" y="336.04" font-size="6.7" font-weight="bold" text-anchor="end" fill="#000" stroke="#000" stroke-width="0.08">10<tspan font-size="4.5" dx="-0.2" dy="-2.6">-13</tspan></text>
<text x="27.40" y="349.60" font-size="6.7" font-weight="bold" text-anchor="end" fill="#000" stroke="#000" stroke-width="0.08">10<tspan font-size="4.5" dx="-0.2" dy="-2.6">-14</tspan></text>
<line x1="242.30" y1="358.30" x2="245.30" y2="358.30" stroke="#000" stroke-width="1.2"/>
<line x1="242.30" y1="342.80" x2="245.30" y2="342.80" stroke="#000" stroke-width="1.2"/>
<line x1="242.30" y1="327.30" x2="245.30" y2="327.30" stroke="#000" stroke-width="1.2"/>
<line x1="242.30" y1="311.80" x2="245.30" y2="311.80" stroke="#000" stroke-width="1.2"/>
<line x1="242.30" y1="296.30" x2="245.30" y2="296.30" stroke="#000" stroke-width="1.2"/>
<line x1="242.30" y1="280.80" x2="245.30" y2="280.80" stroke="#000" stroke-width="1.2"/>
<line x1="242.30" y1="265.30" x2="245.30" y2="265.30" stroke="#000" stroke-width="1.2"/>
<line x1="242.30" y1="249.80" x2="245.30" y2="249.80" stroke="#000" stroke-width="1.2"/>
<line x1="242.30" y1="234.30" x2="245.30" y2="234.30" stroke="#000" stroke-width="1.2"/>
<line x1="242.30" y1="218.80" x2="245.30" y2="218.80" stroke="#000" stroke-width="1.2"/>
<line x1="242.30" y1="203.30" x2="245.30" y2="203.30" stroke="#000" stroke-width="1.2"/>
<line x1="242.30" y1="350.55" x2="244.10" y2="350.55" stroke="#000" stroke-width="1.2"/>
<line x1="242.30" y1="335.05" x2="244.10" y2="335.05" stroke="#000" stroke-width="1.2"/>
<line x1="242.30" y1="319.55" x2="244.10" y2="319.55" stroke="#000" stroke-width="1.2"/>
<line x1="242.30" y1="304.05" x2="244.10" y2="304.05" stroke="#000" stroke-width="1.2"/>
<line x1="242.30" y1="288.55" x2="244.10" y2="288.55" stroke="#000" stroke-width="1.2"/>
<line x1="242.30" y1="273.05" x2="244.10" y2="273.05" stroke="#000" stroke-width="1.2"/>
<line x1="242.30" y1="257.55" x2="244.10" y2="257.55" stroke="#000" stroke-width="1.2"/>
<line x1="242.30" y1="242.05" x2="244.10" y2="242.05" stroke="#000" stroke-width="1.2"/>
<line x1="242.30" y1="226.55" x2="244.10" y2="226.55" stroke="#000" stroke-width="1.2"/>
<line x1="242.30" y1="211.05" x2="244.10" y2="211.05" stroke="#000" stroke-width="1.2"/>
<text x="246.00" y="345.60" font-size="7.0" font-weight="bold" text-anchor="start" fill="#000" stroke="#000" stroke-width="0.08">2.0x10<tspan font-size="4.5" dx="-0.2" dy="-2.6">-5</tspan></text>
<text x="246.00" y="330.10" font-size="7.0" font-weight="bold" text-anchor="start" fill="#000" stroke="#000" stroke-width="0.08">4.0x10<tspan font-size="4.5" dx="-0.2" dy="-2.6">-5</tspan></text>
<text x="246.00" y="314.60" font-size="7.0" font-weight="bold" text-anchor="start" fill="#000" stroke="#000" stroke-width="0.08">6.0x10<tspan font-size="4.5" dx="-0.2" dy="-2.6">-5</tspan></text>
<text x="246.00" y="299.10" font-size="7.0" font-weight="bold" text-anchor="start" fill="#000" stroke="#000" stroke-width="0.08">8.0x10<tspan font-size="4.5" dx="-0.2" dy="-2.6">-5</tspan></text>
<text x="246.00" y="283.60" font-size="7.0" font-weight="bold" text-anchor="start" fill="#000" stroke="#000" stroke-width="0.08">1.0x10<tspan font-size="4.5" dx="-0.2" dy="-2.6">-4</tspan></text>
<text x="246.00" y="268.10" font-size="7.0" font-weight="bold" text-anchor="start" fill="#000" stroke="#000" stroke-width="0.08">1.2x10<tspan font-size="4.5" dx="-0.2" dy="-2.6">-4</tspan></text>
<text x="246.00" y="252.60" font-size="7.0" font-weight="bold" text-anchor="start" fill="#000" stroke="#000" stroke-width="0.08">1.4x10<tspan font-size="4.5" dx="-0.2" dy="-2.6">-4</tspan></text>
<text x="246.00" y="237.10" font-size="7.0" font-weight="bold" text-anchor="start" fill="#000" stroke="#000" stroke-width="0.08">1.6x10<tspan font-size="4.5" dx="-0.2" dy="-2.6">-4</tspan></text>
<text x="246.00" y="221.60" font-size="7.0" font-weight="bold" text-anchor="start" fill="#000" stroke="#000" stroke-width="0.08">1.8x10<tspan font-size="4.5" dx="-0.2" dy="-2.6">-4</tspan></text>
<text x="246.00" y="206.10" font-size="7.0" font-weight="bold" text-anchor="start" fill="#000" stroke="#000" stroke-width="0.08">2.0x10<tspan font-size="4.5" dx="-0.2" dy="-2.6">-4</tspan></text>
<text x="137.40" y="382.50" font-size="8.3" font-weight="bold" text-anchor="middle" fill="#000" stroke="#000" stroke-width="0.18">Gate Voltage(V)</text>
<text x="0.00" y="0.00" font-size="8.3" font-weight="bold" text-anchor="middle" fill="#000" stroke="#000" stroke-width="0.18" transform="translate(8.1,284.0) rotate(-90)">Drain Current(A/μm)</text>
<text x="0.00" y="0.00" font-size="8.3" font-weight="bold" text-anchor="middle" fill="#000" stroke="#000" stroke-width="0.18" transform="translate(279.7,284.0) rotate(-90)">Drain Current(A/μm)</text>
<text x="35.50" y="216.70" font-size="9.5" font-weight="bold" text-anchor="start" fill="#000" stroke="#000" stroke-width="0.18">C</text>
<text x="49.00" y="228.00" font-size="8.5" font-weight="bold" text-anchor="start" fill="#000" stroke="#000" stroke-width="0.18">Vds=1V, ρ=1e10</text>
<line x1="89.40" y1="278.50" x2="105.80" y2="278.50" stroke="#000000" stroke-width="1.1"/>
<text x="108.00" y="281.40" font-size="7.9" font-weight="bold" text-anchor="start" fill="#000" stroke="#000" stroke-width="0.18">k=1</text>
<line x1="89.40" y1="288.40" x2="105.80" y2="288.40" stroke="#ff0000" stroke-width="1.1"/>
<text x="108.00" y="291.30" font-size="7.9" font-weight="bold" text-anchor="start" fill="#000" stroke="#000" stroke-width="0.18">k=5</text>
<line x1="89.40" y1="297.50" x2="105.80" y2="297.50" stroke="#0000ff" stroke-width="1.1"/>
<text x="108.00" y="300.40" font-size="7.9" font-weight="bold" text-anchor="start" fill="#000" stroke="#000" stroke-width="0.18">k=10</text>
<line x1="89.40" y1="307.30" x2="105.80" y2="307.30" stroke="#ff00ff" stroke-width="1.1"/>
<text x="108.00" y="310.20" font-size="7.9" font-weight="bold" text-anchor="start" fill="#000" stroke="#000" stroke-width="0.18">k=12</text>
<line x1="89.40" y1="316.70" x2="105.80" y2="316.70" stroke="#008000" stroke-width="1.1"/>
<text x="108.00" y="319.60" font-size="7.9" font-weight="bold" text-anchor="start" fill="#000" stroke="#000" stroke-width="0.18">k=20</text>
<line x1="89.40" y1="326.00" x2="105.80" y2="326.00" stroke="#000080" stroke-width="1.1"/>
<text x="108.00" y="328.90" font-size="7.9" font-weight="bold" text-anchor="start" fill="#000" stroke="#000" stroke-width="0.18">k=22</text>
<line x1="89.40" y1="335.10" x2="105.80" y2="335.10" stroke="#8000ff" stroke-width="1.1"/>
<text x="108.00" y="338.00" font-size="7.9" font-weight="bold" text-anchor="start" fill="#000" stroke="#000" stroke-width="0.18">k=25</text>
<text x="139.20" y="249.10" font-size="7.0" font-weight="normal" fill="#000" stroke="#000" stroke-width="0.18">Φ<tspan font-size="4.1" font-weight="bold" dy="1.8">M1</tspan><tspan font-weight="bold" dy="-1.8">=4.2eV</tspan></text>
<text x="139.20" y="260.05" font-size="7.0" font-weight="normal" fill="#000" stroke="#000" stroke-width="0.18">Φ<tspan font-size="4.1" font-weight="bold" dy="1.8">M2</tspan><tspan font-weight="bold" dy="-1.8">=3.9eV</tspan></text>
<text x="139.20" y="271.00" font-size="7.0" font-weight="normal" fill="#000" stroke="#000" stroke-width="0.18">Φ<tspan font-size="4.1" font-weight="bold" dy="1.8">BG</tspan><tspan font-weight="bold" dy="-1.8">=4.2eV</tspan></text>
<text x="139.20" y="281.95" font-size="7.0" font-weight="normal" fill="#000" stroke="#000" stroke-width="0.18">Φ<tspan font-size="4.1" font-weight="bold" dy="1.8">PG</tspan><tspan font-weight="bold" dy="-1.8">=5.9eV</tspan></text>
<path d="M340.8,357.7 L340.8,203.5 L551.4,203.5" fill="none" stroke="#000" stroke-width="1.4"/>
<path d="M340.8,357.7 L551.4,357.7" fill="none" stroke="#000" stroke-width="1.4"/>
<path d="M551.4,203.5 L551.4,357.7" fill="none" stroke="#000" stroke-width="1.4"/>
<line x1="341.00" y1="357.70" x2="341.00" y2="360.90" stroke="#000" stroke-width="1.2"/>
<line x1="341.00" y1="203.50" x2="341.00" y2="206.10" stroke="#000" stroke-width="1.2"/>
<line x1="357.18" y1="357.70" x2="357.18" y2="360.90" stroke="#000" stroke-width="1.2"/>
<line x1="357.18" y1="203.50" x2="357.18" y2="206.10" stroke="#000" stroke-width="1.2"/>
<line x1="373.36" y1="357.70" x2="373.36" y2="360.90" stroke="#000" stroke-width="1.2"/>
<line x1="373.36" y1="203.50" x2="373.36" y2="206.10" stroke="#000" stroke-width="1.2"/>
<line x1="389.54" y1="357.70" x2="389.54" y2="360.90" stroke="#000" stroke-width="1.2"/>
<line x1="389.54" y1="203.50" x2="389.54" y2="206.10" stroke="#000" stroke-width="1.2"/>
<line x1="405.72" y1="357.70" x2="405.72" y2="360.90" stroke="#000" stroke-width="1.2"/>
<line x1="405.72" y1="203.50" x2="405.72" y2="206.10" stroke="#000" stroke-width="1.2"/>
<line x1="421.90" y1="357.70" x2="421.90" y2="360.90" stroke="#000" stroke-width="1.2"/>
<line x1="421.90" y1="203.50" x2="421.90" y2="206.10" stroke="#000" stroke-width="1.2"/>
<line x1="438.08" y1="357.70" x2="438.08" y2="360.90" stroke="#000" stroke-width="1.2"/>
<line x1="438.08" y1="203.50" x2="438.08" y2="206.10" stroke="#000" stroke-width="1.2"/>
<line x1="454.26" y1="357.70" x2="454.26" y2="360.90" stroke="#000" stroke-width="1.2"/>
<line x1="454.26" y1="203.50" x2="454.26" y2="206.10" stroke="#000" stroke-width="1.2"/>
<line x1="470.44" y1="357.70" x2="470.44" y2="360.90" stroke="#000" stroke-width="1.2"/>
<line x1="470.44" y1="203.50" x2="470.44" y2="206.10" stroke="#000" stroke-width="1.2"/>
<line x1="486.62" y1="357.70" x2="486.62" y2="360.90" stroke="#000" stroke-width="1.2"/>
<line x1="486.62" y1="203.50" x2="486.62" y2="206.10" stroke="#000" stroke-width="1.2"/>
<line x1="502.80" y1="357.70" x2="502.80" y2="360.90" stroke="#000" stroke-width="1.2"/>
<line x1="502.80" y1="203.50" x2="502.80" y2="206.10" stroke="#000" stroke-width="1.2"/>
<line x1="518.98" y1="357.70" x2="518.98" y2="360.90" stroke="#000" stroke-width="1.2"/>
<line x1="518.98" y1="203.50" x2="518.98" y2="206.10" stroke="#000" stroke-width="1.2"/>
<line x1="535.16" y1="357.70" x2="535.16" y2="360.90" stroke="#000" stroke-width="1.2"/>
<line x1="535.16" y1="203.50" x2="535.16" y2="206.10" stroke="#000" stroke-width="1.2"/>
<line x1="551.34" y1="357.70" x2="551.34" y2="360.90" stroke="#000" stroke-width="1.2"/>
<line x1="551.34" y1="203.50" x2="551.34" y2="206.10" stroke="#000" stroke-width="1.2"/>
<line x1="349.09" y1="357.70" x2="349.09" y2="359.70" stroke="#000" stroke-width="1.2"/>
<line x1="349.09" y1="203.50" x2="349.09" y2="205.10" stroke="#000" stroke-width="1.2"/>
<line x1="365.27" y1="357.70" x2="365.27" y2="359.70" stroke="#000" stroke-width="1.2"/>
<line x1="365.27" y1="203.50" x2="365.27" y2="205.10" stroke="#000" stroke-width="1.2"/>
<line x1="381.45" y1="357.70" x2="381.45" y2="359.70" stroke="#000" stroke-width="1.2"/>
<line x1="381.45" y1="203.50" x2="381.45" y2="205.10" stroke="#000" stroke-width="1.2"/>
<line x1="397.63" y1="357.70" x2="397.63" y2="359.70" stroke="#000" stroke-width="1.2"/>
<line x1="397.63" y1="203.50" x2="397.63" y2="205.10" stroke="#000" stroke-width="1.2"/>
<line x1="413.81" y1="357.70" x2="413.81" y2="359.70" stroke="#000" stroke-width="1.2"/>
<line x1="413.81" y1="203.50" x2="413.81" y2="205.10" stroke="#000" stroke-width="1.2"/>
<line x1="429.99" y1="357.70" x2="429.99" y2="359.70" stroke="#000" stroke-width="1.2"/>
<line x1="429.99" y1="203.50" x2="429.99" y2="205.10" stroke="#000" stroke-width="1.2"/>
<line x1="446.17" y1="357.70" x2="446.17" y2="359.70" stroke="#000" stroke-width="1.2"/>
<line x1="446.17" y1="203.50" x2="446.17" y2="205.10" stroke="#000" stroke-width="1.2"/>
<line x1="462.35" y1="357.70" x2="462.35" y2="359.70" stroke="#000" stroke-width="1.2"/>
<line x1="462.35" y1="203.50" x2="462.35" y2="205.10" stroke="#000" stroke-width="1.2"/>
<line x1="478.53" y1="357.70" x2="478.53" y2="359.70" stroke="#000" stroke-width="1.2"/>
<line x1="478.53" y1="203.50" x2="478.53" y2="205.10" stroke="#000" stroke-width="1.2"/>
<line x1="494.71" y1="357.70" x2="494.71" y2="359.70" stroke="#000" stroke-width="1.2"/>
<line x1="494.71" y1="203.50" x2="494.71" y2="205.10" stroke="#000" stroke-width="1.2"/>
<line x1="510.89" y1="357.70" x2="510.89" y2="359.70" stroke="#000" stroke-width="1.2"/>
<line x1="510.89" y1="203.50" x2="510.89" y2="205.10" stroke="#000" stroke-width="1.2"/>
<line x1="527.07" y1="357.70" x2="527.07" y2="359.70" stroke="#000" stroke-width="1.2"/>
<line x1="527.07" y1="203.50" x2="527.07" y2="205.10" stroke="#000" stroke-width="1.2"/>
<line x1="543.25" y1="357.70" x2="543.25" y2="359.70" stroke="#000" stroke-width="1.2"/>
<line x1="543.25" y1="203.50" x2="543.25" y2="205.10" stroke="#000" stroke-width="1.2"/>
<text x="341.00" y="368.60" font-size="6.7" font-weight="bold" text-anchor="middle" fill="#000" stroke="#000" stroke-width="0.08">0</text>
<text x="357.18" y="368.60" font-size="6.7" font-weight="bold" text-anchor="middle" fill="#000" stroke="#000" stroke-width="0.08">2</text>
<text x="373.36" y="368.60" font-size="6.7" font-weight="bold" text-anchor="middle" fill="#000" stroke="#000" stroke-width="0.08">4</text>
<text x="389.54" y="368.60" font-size="6.7" font-weight="bold" text-anchor="middle" fill="#000" stroke="#000" stroke-width="0.08">6</text>
<text x="405.72" y="368.60" font-size="6.7" font-weight="bold" text-anchor="middle" fill="#000" stroke="#000" stroke-width="0.08">8</text>
<text x="421.90" y="368.60" font-size="6.7" font-weight="bold" text-anchor="middle" fill="#000" stroke="#000" stroke-width="0.08">10</text>
<text x="438.08" y="368.60" font-size="6.7" font-weight="bold" text-anchor="middle" fill="#000" stroke="#000" stroke-width="0.08">12</text>
<text x="454.26" y="368.60" font-size="6.7" font-weight="bold" text-anchor="middle" fill="#000" stroke="#000" stroke-width="0.08">14</text>
<text x="470.44" y="368.60" font-size="6.7" font-weight="bold" text-anchor="middle" fill="#000" stroke="#000" stroke-width="0.08">16</text>
<text x="486.62" y="368.60" font-size="6.7" font-weight="bold" text-anchor="middle" fill="#000" stroke="#000" stroke-width="0.08">18</text>
<text x="502.80" y="368.60" font-size="6.7" font-weight="bold" text-anchor="middle" fill="#000" stroke="#000" stroke-width="0.08">20</text>
<text x="518.98" y="368.60" font-size="6.7" font-weight="bold" text-anchor="middle" fill="#000" stroke="#000" stroke-width="0.08">22</text>
<text x="535.16" y="368.60" font-size="6.7" font-weight="bold" text-anchor="middle" fill="#000" stroke="#000" stroke-width="0.08">24</text>
<text x="551.34" y="368.60" font-size="6.7" font-weight="bold" text-anchor="middle" fill="#000" stroke="#000" stroke-width="0.08">26</text>
<line x1="337.80" y1="357.70" x2="340.80" y2="357.70" stroke="#000" stroke-width="1.2"/>
<line x1="337.80" y1="319.20" x2="340.80" y2="319.20" stroke="#000" stroke-width="1.2"/>
<line x1="337.80" y1="280.70" x2="340.80" y2="280.70" stroke="#000" stroke-width="1.2"/>
<line x1="337.80" y1="242.20" x2="340.80" y2="242.20" stroke="#000" stroke-width="1.2"/>
<line x1="337.80" y1="203.70" x2="340.80" y2="203.70" stroke="#000" stroke-width="1.2"/>
<line x1="339.00" y1="338.45" x2="340.80" y2="338.45" stroke="#000" stroke-width="1.2"/>
<line x1="339.00" y1="299.95" x2="340.80" y2="299.95" stroke="#000" stroke-width="1.2"/>
<line x1="339.00" y1="261.45" x2="340.80" y2="261.45" stroke="#000" stroke-width="1.2"/>
<line x1="339.00" y1="222.95" x2="340.80" y2="222.95" stroke="#000" stroke-width="1.2"/>
<text x="336.20" y="360.00" font-size="6.7" font-weight="bold" text-anchor="end" fill="#000" stroke="#000" stroke-width="0.08">0.0</text>
<text x="336.00" y="321.50" font-size="6.7" font-weight="bold" text-anchor="end" fill="#000" stroke="#000" stroke-width="0.08">5.0x10<tspan font-size="4.5" dx="-0.2" dy="-2.6">9</tspan></text>
<text x="336.00" y="283.00" font-size="6.7" font-weight="bold" text-anchor="end" fill="#000" stroke="#000" stroke-width="0.08">1.0x10<tspan font-size="4.5" dx="-0.2" dy="-2.6">10</tspan></text>
<text x="336.00" y="244.50" font-size="6.7" font-weight="bold" text-anchor="end" fill="#000" stroke="#000" stroke-width="0.08">1.5x10<tspan font-size="4.5" dx="-0.2" dy="-2.6">10</tspan></text>
<text x="336.00" y="206.00" font-size="6.7" font-weight="bold" text-anchor="end" fill="#000" stroke="#000" stroke-width="0.08">2.0x10<tspan font-size="4.5" dx="-0.2" dy="-2.6">10</tspan></text>
<line x1="551.40" y1="357.70" x2="554.40" y2="357.70" stroke="#000" stroke-width="1.2"/>
<line x1="551.40" y1="319.20" x2="554.40" y2="319.20" stroke="#000" stroke-width="1.2"/>
<line x1="551.40" y1="280.70" x2="554.40" y2="280.70" stroke="#000" stroke-width="1.2"/>
<line x1="551.40" y1="242.20" x2="554.40" y2="242.20" stroke="#000" stroke-width="1.2"/>
<line x1="551.40" y1="203.70" x2="554.40" y2="203.70" stroke="#000" stroke-width="1.2"/>
<line x1="551.40" y1="338.45" x2="553.20" y2="338.45" stroke="#000" stroke-width="1.2"/>
<line x1="551.40" y1="299.95" x2="553.20" y2="299.95" stroke="#000" stroke-width="1.2"/>
<line x1="551.40" y1="261.45" x2="553.20" y2="261.45" stroke="#000" stroke-width="1.2"/>
<line x1="551.40" y1="222.95" x2="553.20" y2="222.95" stroke="#000" stroke-width="1.2"/>
<text x="555.00" y="360.00" font-size="6.7" font-weight="bold" text-anchor="start" fill="#000" stroke="#000" stroke-width="0.08">0</text>
<text x="555.00" y="321.50" font-size="6.7" font-weight="bold" text-anchor="start" fill="#000" stroke="#000" stroke-width="0.08">1</text>
<text x="555.00" y="283.00" font-size="6.7" font-weight="bold" text-anchor="start" fill="#000" stroke="#000" stroke-width="0.08">2</text>
<text x="555.00" y="244.50" font-size="6.7" font-weight="bold" text-anchor="start" fill="#000" stroke="#000" stroke-width="0.08">3</text>
<text x="555.00" y="206.00" font-size="6.7" font-weight="bold" text-anchor="start" fill="#000" stroke="#000" stroke-width="0.08">4</text>
<text x="445.50" y="382.50" font-size="8.3" font-weight="bold" text-anchor="middle" fill="#000" stroke="#000" stroke-width="0.18">Dielectric Constant(k)</text>
<text x="0.00" y="0.00" font-size="8.3" font-weight="bold" text-anchor="middle" fill="#000" stroke="#000" stroke-width="0.18" transform="translate(306.5,286.0) rotate(-90)">Ion/Ioff</text>
<text x="0.00" y="0.00" font-size="8.3" font-weight="bold" text-anchor="middle" fill="#000" stroke="#000" stroke-width="0.18" transform="translate(568.5,285.5) rotate(-90)">Sensitivity</text>
<text x="344.80" y="222.80" font-size="14.0" font-weight="normal" text-anchor="start" fill="#000" stroke="#000" stroke-width="0.09">d</text>
<text x="362.00" y="221.20" font-size="8.35" font-weight="bold" text-anchor="start" fill="#000" stroke="#000" stroke-width="0.18">Vds=1V, Vgs=2V, ρ=1e10</text>
<text x="362.0" y="231.8" font-size="8.35" font-weight="bold" fill="#000" stroke="#000" stroke-width="0.18"><tspan font-weight="normal">Φ</tspan><tspan font-size="5.0" dy="2.0">M1</tspan><tspan dy="-2.0">=4.2eV, </tspan><tspan font-weight="normal">Φ</tspan><tspan font-size="5.0" dy="2.0">M2</tspan><tspan dy="-2.0">=3.9eV, </tspan><tspan font-weight="normal">Φ</tspan><tspan font-size="5.0" dy="2.0">BG</tspan><tspan dy="-2.0">=4.2eV, </tspan><tspan font-weight="normal">Φ</tspan><tspan font-size="5.0" dy="2.0">PG</tspan><tspan dy="-2.0">=5.9eV</tspan></text>
<polyline points="349.09,273.90 381.45,266.60 421.90,256.40 438.08,252.60 502.80,240.90 518.98,238.60 543.25,235.80" fill="none" stroke="#ff0000" stroke-width="1.5" stroke-linejoin="round" stroke-linecap="round"/>
<circle cx="349.09" cy="273.90" r="2.1" fill="#ff0000"/>
<circle cx="381.45" cy="266.60" r="2.1" fill="#ff0000"/>
<circle cx="421.90" cy="256.40" r="2.1" fill="#ff0000"/>
<circle cx="438.08" cy="252.60" r="2.1" fill="#ff0000"/>
<circle cx="502.80" cy="240.90" r="2.1" fill="#ff0000"/>
<circle cx="518.98" cy="238.60" r="2.1" fill="#ff0000"/>
<circle cx="543.25" cy="235.80" r="2.1" fill="#ff0000"/>
<polyline points="349.09,319.50 381.45,309.20 421.90,297.20 438.08,293.00 502.80,279.30 518.98,276.50 543.25,273.40" fill="none" stroke="#0000ff" stroke-width="1.5" stroke-linejoin="round" stroke-linecap="round"/>
<circle cx="349.09" cy="319.50" r="2.1" fill="#0000ff"/>
<circle cx="381.45" cy="309.20" r="2.1" fill="#0000ff"/>
<circle cx="421.90" cy="297.20" r="2.1" fill="#0000ff"/>
<circle cx="438.08" cy="293.00" r="2.1" fill="#0000ff"/>
<circle cx="502.80" cy="279.30" r="2.1" fill="#0000ff"/>
<circle cx="518.98" cy="276.50" r="2.1" fill="#0000ff"/>
<circle cx="543.25" cy="273.40" r="2.1" fill="#0000ff"/>
<line x1="458.60" y1="308.40" x2="476.50" y2="308.40" stroke="#ff0000" stroke-width="1.5"/>
<circle cx="467.70" cy="308.40" r="1.9" fill="#ff0000"/>
<text x="479.00" y="311.40" font-size="8.3" font-weight="bold" text-anchor="start" fill="#000" stroke="#000" stroke-width="0.18">Switch ratio</text>
<line x1="458.60" y1="319.30" x2="476.50" y2="319.30" stroke="#0000ff" stroke-width="1.5"/>
<circle cx="467.70" cy="319.30" r="1.9" fill="#0000ff"/>
<text x="479.00" y="322.30" font-size="8.3" font-weight="bold" text-anchor="start" fill="#000" stroke="#000" stroke-width="0.18">Sensitivity</text>
</svg></body></html>
